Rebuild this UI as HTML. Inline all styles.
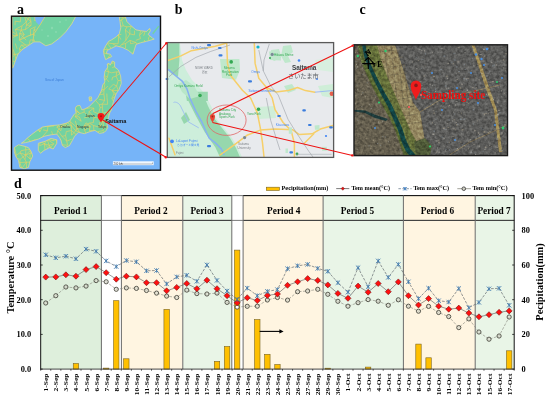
<!DOCTYPE html>
<html><head><meta charset="utf-8"><style>
html,body{margin:0;padding:0;background:#fff;width:550px;height:402px;overflow:hidden}
svg{display:block}
text{font-family:"Liberation Serif","Noto Serif CJK SC",serif}
.b{font-weight:bold}
.pl{font-size:9.9px;text-anchor:middle}
.yl{font-size:8.4px}
.xl{font-size:7.0px}
.at{font-size:10.4px}
.lg{font-size:6.4px}
.pn{font-size:14px}
.ms{font-family:"Liberation Sans","Noto Sans CJK JP",sans-serif}
.pl,.yl,.xl,.at,.lg,.pn{font-weight:bold}
</style></head><body>
<svg width="550" height="402" viewBox="0 0 550 402">
<g id="labels">
<text x="17" y="13.9" class="pn">a</text>
<text x="174.8" y="14.2" class="pn">b</text>
<text x="359.6" y="14.2" class="pn">c</text>
</g>
<g id="mapa">
<rect x="11.5" y="16.2" width="149" height="154" fill="#76b4f8"/>
<g fill="#72d2a2" stroke="#e9dc8a" stroke-width="0.7" stroke-linejoin="round">
<path d="M12.4,16.4L75.7,16.4L71.7,24L65.7,31.9L59.7,37.9L51.8,43.9L45.8,45.8L39.9,41.9L33.9,41.9L27.9,45.8L21.9,49.8L18,53.8L15,61.8L13,67.7L12.4,68Z"/>
<path d="M119.3,17L125.4,17L126.9,21.6L131.4,26.1L136,29.9L140.6,30.7L146.6,31.5L149.7,28.4L150.4,30.7L148.1,34.5L152.7,38.3L154.2,39.1L146.6,41.3L140.6,42.8L136,44.4L133,54.2L128.4,50.4L122.3,47.4L116.3,45.9L111.7,48.2L107.1,50.4L106.4,53.5L110.2,54.2L111.7,56.5L108.7,58L105.6,59.6L104.1,55L103.4,50.4L105.6,45.9L108.7,41.3L111.7,39.8L116.3,36.8L119.3,33.7L120.8,27.7L120,21.6Z"/>
<path d="M107.9,67L107.2,64L109,63.3L110.2,65.2L112.4,61L114.6,62L114.6,67L118.4,70L120.6,75.9L121.3,83.4L119.1,89.3L116.1,93.8L113.9,99.8L112.4,105.7L111.4,110L109.9,112.5L108.4,117.7L106.9,123.7L107.7,127.4L106.2,130.4L104,132.6L99.5,133.4L95,130.4L90.3,131.5L84.3,133.7L78.4,132.2L74.5,136.3L72.3,140.5L69.5,145.5L65.3,147.6L62.4,145.5L61,140.5L59.6,137.7L56.8,134.1L51.1,134.8L44,136.3L38.3,139.1L31.3,141.2L25.6,142.6L21.3,143.3L24.2,141.2L27,138.4L31.3,134.8L36.9,130.6L42.6,127L51.1,125.6L59.6,124.9L66.7,123L69.5,121.5L71.9,117.8L73.9,114.8L75.9,112.8L75.4,107.9L76.9,105.9L79.9,105.4L81.9,109.9L84.9,108.9L88.8,106.9L91.8,103.9L94.8,100.9L97.8,97.9L99.8,93.9L101.7,90L102.7,85L104.9,81.9L104.2,77.4L104.9,71.4Z"/>
<path d="M14.3,147.6L18.5,144.8L24.2,146.2L28.4,147.6L31.3,151.8L32.7,156.1L29.8,161.8L28.4,167.4L24.2,168.8L19.9,167.4L18.5,160.3L15.7,156.1L14.3,151.8Z"/>
<path d="M38.3,143.3L45.4,141.2L51.1,138.4L56.8,139.8L56.8,143.3L53.2,149L49.7,147.6L44,150.4L40.5,153.3L38.3,150.4Z"/>
<path d="M89,97L91.5,96.9L91.8,100.5L89.5,100.9Z"/>
</g>
<path d="M34,16.4L46,16.4L43,20L39,25L36,22Z" fill="#76b4f8"/>
<path d="M44.8,17L40,25L33.9,33.9L32.9,41.8M33.9,33.9L28,36L20,40" stroke="#f2d35e" stroke-width="0.7" fill="none"/>
<g fill="#8fdcb4" opacity="0.8"><circle cx="52" cy="28" r="1.2"/><circle cx="60" cy="22" r="1"/><circle cx="48" cy="36" r="1"/><circle cx="42" cy="30" r="0.8"/><circle cx="56" cy="32" r="0.9"/><circle cx="66" cy="20" r="0.8"/></g>
<path d="M152.7,33.7L158.8,26.1" stroke="#72d2a2" stroke-width="1.5" fill="none"/>
<defs><clipPath id="landclip"><path d="M12.4,16.4L36,16.4L35,41.8L29.9,43.8L23.9,48.8L18.9,53.8L15,61.7L13,67.7L12.4,68Z"/><path d="M119.3,17L125.4,17L126.9,21.6L131.4,26.1L136,29.9L140.6,30.7L146.6,31.5L149.7,28.4L150.4,30.7L148.1,34.5L152.7,38.3L154.2,39.1L146.6,41.3L140.6,42.8L136,44.4L133,54.2L128.4,50.4L122.3,47.4L116.3,45.9L111.7,48.2L107.1,50.4L106.4,53.5L110.2,54.2L111.7,56.5L108.7,58L105.6,59.6L104.1,55L103.4,50.4L105.6,45.9L108.7,41.3L111.7,39.8L116.3,36.8L119.3,33.7L120.8,27.7L120,21.6Z"/><path d="M107.9,67L107.2,64L109,63.3L110.2,65.2L112.4,61L114.6,62L114.6,67L118.4,70L120.6,75.9L121.3,83.4L119.1,89.3L116.1,93.8L113.9,99.8L112.4,105.7L111.4,110L109.9,112.5L108.4,117.7L106.9,123.7L107.7,127.4L106.2,130.4L104,132.6L99.5,133.4L95,130.4L90.3,131.5L84.3,133.7L78.4,132.2L74.5,136.3L72.3,140.5L69.5,145.5L65.3,147.6L62.4,145.5L61,140.5L59.6,137.7L56.8,134.1L51.1,134.8L44,136.3L38.3,139.1L31.3,141.2L25.6,142.6L21.3,143.3L24.2,141.2L27,138.4L31.3,134.8L36.9,130.6L42.6,127L51.1,125.6L59.6,124.9L66.7,123L69.5,121.5L71.9,117.8L73.9,114.8L75.9,112.8L75.4,107.9L76.9,105.9L79.9,105.4L81.9,109.9L84.9,108.9L88.8,106.9L91.8,103.9L94.8,100.9L97.8,97.9L99.8,93.9L101.7,90L102.7,85L104.9,81.9L104.2,77.4L104.9,71.4Z"/><path d="M14.3,147.6L18.5,144.8L24.2,146.2L28.4,147.6L31.3,151.8L32.7,156.1L29.8,161.8L28.4,167.4L24.2,168.8L19.9,167.4L18.5,160.3L15.7,156.1L14.3,151.8Z"/><path d="M38.3,143.3L45.4,141.2L51.1,138.4L56.8,139.8L56.8,143.3L53.2,149L49.7,147.6L44,150.4L40.5,153.3L38.3,150.4Z"/><path d="M89,97L91.5,96.9L91.8,100.5L89.5,100.9Z"/></clipPath></defs><g clip-path="url(#landclip)"><path d="M11.5,25.6L10.6,30.0M10.6,30.0L17.4,35.4M11.9,35.4L17.4,35.4M10.4,38.6L17.4,35.4M12.0,47.1L12.9,54.3M12.0,47.1L15.0,54.4M12.9,54.3L15.0,54.4M11.9,57.9L10.5,60.8M11.9,57.9L15.0,54.4M10.5,60.8L16.9,61.7M11.6,65.6L15.5,65.6M11.6,65.6L10.6,70.7M10.6,70.7L15.0,71.6M10.6,70.7L10.2,75.9M10.6,70.7L15.5,65.6M10.2,75.9L15.4,76.3M11.3,81.6L15.7,80.5M11.3,81.6L11.6,85.6M11.3,81.6L17.4,85.2M11.6,85.6L11.5,90.3M11.5,90.3L16.3,90.8M12.9,100.4L17.2,99.9M12.9,100.4L12.5,104.2M11.0,107.4L16.8,109.4M11.0,107.4L10.9,111.6M11.0,107.4L15.4,102.7M10.9,111.6L12.2,117.1M12.2,117.1L15.3,114.1M12.5,121.7L15.9,120.9M12.8,127.6L10.1,130.4M10.1,130.4L12.6,135.7M10.1,130.4L14.8,127.9M12.6,135.7L15.4,131.8M12.8,140.1L16.4,139.8M12.8,140.1L10.3,145.4M10.3,145.4L12.3,149.0M10.3,145.4L14.9,148.8M10.3,145.4L16.4,139.8M12.3,149.0L10.3,153.7M10.3,153.7L12.8,159.5M12.8,159.5L10.4,162.7M10.4,162.7L17.3,162.6M10.4,162.7L10.4,166.8M10.4,162.7L14.7,167.4M10.4,166.8L12.3,171.7M10.4,166.8L15.9,171.4M12.3,171.7L15.9,171.4M15.1,21.2L20.3,21.9M15.1,21.2L15.0,25.2M15.3,29.4L21.2,30.2M15.3,29.4L17.4,35.4M15.3,29.4L22.0,25.8M15.3,43.5L17.1,48.8M15.0,54.4L20.7,53.6M15.0,54.4L15.3,56.9M15.3,56.9L16.9,61.7M16.9,61.7L15.5,65.6M16.9,61.7L20.2,59.0M15.5,65.6L21.4,67.9M15.5,65.6L15.0,71.6M15.5,65.6L19.5,62.3M15.4,76.3L20.3,81.1M17.4,85.2L16.3,90.8M16.3,90.8L20.5,90.6M16.3,90.8L15.2,93.4M15.2,93.4L21.7,94.6M17.2,99.9L15.4,102.7M15.4,102.7L21.0,98.7M16.8,109.4L19.5,108.6M16.8,109.4L22.1,113.9M15.3,114.1L22.1,113.9M15.3,114.1L17.2,117.7M17.2,117.7L21.3,117.1M17.2,117.7L15.9,120.9M15.9,120.9L21.3,117.1M14.8,127.9L15.4,131.8M15.4,131.8L15.4,136.7M15.4,136.7L19.4,136.1M15.4,136.7L16.4,139.8M16.4,139.8L20.6,139.6M16.4,139.8L15.2,145.6M14.9,148.8L16.3,155.2M16.3,155.2L20.0,152.8M16.3,155.2L16.4,158.2M16.4,158.2L20.1,159.3M16.4,158.2L17.3,162.6M17.3,162.6L19.9,162.5M17.3,162.6L14.7,167.4M14.7,167.4L21.8,168.4M15.9,171.4L15.2,176.8M15.2,176.8L20.2,177.7M20.9,15.2L24.5,16.0M20.9,15.2L20.3,21.9M22.0,25.8L21.2,30.2M22.0,25.8L26.2,22.0M21.2,30.2L25.5,29.5M21.2,30.2L19.7,33.3M21.2,30.2L24.3,34.6M19.7,33.3L24.3,34.6M19.7,33.3L19.4,40.3M19.7,33.3L26.2,40.2M19.4,40.3L25.9,45.1M19.4,40.3L24.3,34.6M21.3,45.1L25.9,45.1M21.3,45.1L19.4,48.8M21.3,45.1L24.7,47.5M19.4,48.8L20.7,53.6M19.4,48.8L25.2,52.4M20.7,53.6L25.2,52.4M20.7,53.6L20.2,59.0M20.2,59.0L24.5,57.4M20.2,59.0L19.5,62.3M20.2,59.0L25.7,62.2M19.5,62.3L25.7,62.2M19.5,62.3L21.4,67.9M19.5,62.3L24.8,67.7M21.4,67.9L21.4,72.0M21.4,72.0L26.6,71.3M21.4,72.0L21.5,77.2M21.5,77.2L26.3,79.3M20.3,81.1L26.3,79.3M21.8,86.2L20.5,90.6M20.5,90.6L21.7,94.6M21.7,94.6L21.0,98.7M20.9,103.9L25.2,97.7M19.5,108.6L24.3,106.9M19.5,108.6L25.7,112.7M22.1,113.9L25.7,112.7M21.3,117.1L21.4,122.2M21.4,122.2L20.5,127.5M20.5,127.5L25.8,125.8M19.5,131.9L25.2,130.3M19.5,131.9L19.4,136.1M19.5,131.9L23.9,135.7M19.5,131.9L25.8,125.8M19.4,136.1L23.9,135.7M19.4,136.1L20.6,139.6M20.6,139.6L25.9,139.5M21.0,150.8L25.9,149.7M21.0,150.8L20.0,152.8M20.0,152.8L25.6,154.9M20.0,152.8L25.0,159.6M20.1,159.3L19.9,162.5M20.1,159.3L25.6,154.9M19.9,162.5L26.4,162.2M19.9,162.5L21.8,168.4M21.8,168.4L26.4,162.2M20.5,173.7L24.3,172.5M20.5,173.7L20.2,177.7M24.5,16.0L26.2,22.0M24.5,16.0L31.0,21.6M26.2,22.0L26.4,25.1M26.2,22.0L29.6,16.4M26.4,25.1L31.1,25.3M26.4,25.1L25.5,29.5M26.4,25.1L31.0,21.6M25.5,29.5L31.1,25.3M25.9,45.1L29.1,44.9M24.7,47.5L31.2,49.7M24.7,47.5L25.2,52.4M25.2,52.4L29.4,58.7M25.2,52.4L31.2,49.7M25.7,62.2L30.9,61.8M25.7,62.2L24.8,67.7M24.8,67.7L28.7,66.6M26.6,71.3L30.0,72.2M26.6,71.3L24.1,74.7M26.6,71.3L28.7,66.6M24.1,74.7L29.9,74.7M24.1,74.7L26.3,79.3M24.1,74.7L30.0,72.2M26.3,79.3L30.8,79.4M26.3,79.3L25.9,85.4M25.9,85.4L30.7,84.3M25.9,85.4L24.8,90.6M24.8,90.6L29.4,90.6M24.8,90.6L24.0,93.4M24.0,93.4L28.9,93.4M24.0,93.4L25.2,97.7M25.2,97.7L29.9,99.6M26.2,102.9L24.3,106.9M24.3,106.9L31.1,108.2M24.3,106.9L31.2,111.6M24.3,106.9L30.9,104.1M25.7,112.7L25.7,117.8M25.7,117.8L29.1,117.5M25.7,117.8L26.2,123.3M26.2,123.3L29.3,122.6M25.8,125.8L30.3,126.7M25.2,130.3L30.9,131.4M23.9,135.7L29.4,135.5M23.9,135.7L30.9,141.5M24.7,144.6L29.1,146.0M24.7,144.6L25.9,149.7M25.9,149.7L31.2,149.7M25.9,149.7L25.6,154.9M25.6,154.9L30.1,153.4M25.6,154.9L25.0,159.6M25.6,154.9L30.0,158.8M25.6,154.9L31.2,149.7M25.0,159.6L26.4,162.2M26.4,162.2L30.2,162.1M26.4,162.2L26.5,168.6M26.5,168.6L31.2,168.0M25.7,178.3L30.1,177.2M29.6,16.4L35.0,15.0M29.6,16.4L31.0,21.6M31.0,21.6L31.1,25.3M30.3,29.2L30.5,35.5M30.3,29.2L35.8,26.6M30.3,39.8L35.4,40.3M30.3,39.8L29.1,44.9M29.1,44.9L34.4,43.3M29.1,44.9L31.2,49.7M31.2,49.7L30.0,53.8M30.0,53.8L35.7,52.0M30.0,53.8L29.4,58.7M29.4,58.7L35.3,56.3M30.9,61.8L33.6,61.4M30.9,61.8L28.7,66.6M30.9,61.8L35.0,66.3M28.7,66.6L30.0,72.2M30.0,72.2L34.1,71.7M30.0,72.2L29.9,74.7M29.9,74.7L30.8,79.4M30.8,79.4L30.7,84.3M30.8,79.4L33.4,76.6M30.7,84.3L29.4,90.6M30.7,84.3L34.6,89.6M29.4,90.6L34.6,89.6M29.9,99.6L33.7,104.0M30.9,104.1L33.7,104.0M31.1,108.2L33.7,104.0M31.2,111.6L35.5,113.1M31.2,111.6L29.1,117.5M31.2,111.6L35.5,116.7M29.1,117.5L35.5,116.7M29.1,117.5L29.3,122.6M29.3,122.6L35.2,122.9M30.3,126.7L30.9,131.4M30.3,126.7L35.2,122.9M30.9,131.4L29.4,135.5M30.9,141.5L35.6,139.4M30.9,141.5L29.1,146.0M29.1,146.0L33.8,145.6M29.1,146.0L31.2,149.7M31.2,149.7L30.1,153.4M30.1,153.4L35.4,154.0M30.1,153.4L30.0,158.8M30.0,158.8L35.3,157.8M30.2,162.1L34.2,163.9M30.2,162.1L31.2,168.0M30.2,162.1L33.1,167.2M31.2,168.0L34.2,163.9M29.6,173.4L35.0,173.8M29.6,173.4L30.1,177.2M35.0,15.0L39.1,16.9M35.0,15.0L34.6,20.6M34.6,20.6L39.1,21.3M35.8,26.6L33.9,29.9M35.8,26.6L38.0,28.7M33.9,29.9L38.0,28.7M33.9,29.9L33.5,34.4M33.9,29.9L39.2,34.6M33.5,34.4L39.3,38.2M35.4,40.3L39.3,38.2M35.4,40.3L34.4,43.3M35.4,40.3L38.2,43.0M34.4,43.3L33.6,48.7M34.4,43.3L40.1,49.8M34.4,43.3L39.3,38.2M33.6,48.7L40.1,49.8M35.7,52.0L35.3,56.3M33.6,61.4L39.0,62.9M33.6,61.4L35.0,66.3M34.1,71.7L33.4,76.6M33.4,76.6L33.4,80.6M33.8,84.4L39.8,89.5M34.6,89.6L39.8,89.5M34.6,89.6L34.2,94.2M34.2,94.2L34.6,98.0M34.6,98.0L39.1,97.6M34.6,98.0L33.7,104.0M34.6,98.0L40.2,104.4M34.6,98.0L38.2,93.5M33.7,104.0L40.2,104.4M34.9,108.3L39.7,109.2M34.9,108.3L35.5,113.1M35.5,113.1L39.5,112.5M35.5,113.1L35.5,116.7M35.5,113.1L39.7,109.2M35.5,116.7L39.4,117.4M35.5,116.7L35.2,122.9M35.5,116.7L40.5,122.9M35.5,116.7L39.5,112.5M35.2,122.9L40.5,122.9M35.2,122.9L35.6,126.1M35.6,126.1L38.4,127.8M35.6,126.1L39.8,132.0M35.6,126.1L40.5,122.9M33.8,148.5L35.4,154.0M35.4,154.0L38.7,158.7M35.3,157.8L38.7,158.7M35.3,157.8L37.7,163.0M34.2,163.9L37.7,163.0M33.1,167.2L39.5,168.3M33.1,167.2L38.3,173.8M35.8,176.1L39.6,176.7M39.1,16.9L39.1,21.3M39.1,21.3L38.2,24.2M38.2,24.2L45.1,25.8M38.2,24.2L43.8,20.5M38.0,28.7L44.3,30.7M38.0,28.7L39.2,34.6M38.0,28.7L45.1,25.8M39.2,34.6L45.0,33.3M39.2,34.6L39.3,38.2M38.2,43.0L40.1,49.8M40.3,51.9L43.4,51.9M40.3,51.9L37.9,58.9M40.3,51.9L43.0,58.7M37.9,58.9L43.8,62.2M39.0,62.9L43.8,62.2M38.6,66.7L45.0,67.0M39.1,71.2L45.1,71.8M39.4,74.6L44.6,74.8M39.7,81.6L38.2,85.1M38.2,85.1L42.4,86.4M38.2,93.5L42.8,94.4M39.1,97.6L44.0,97.8M39.1,97.6L40.2,104.4M39.5,112.5L43.3,112.2M39.4,117.4L44.1,117.6M39.4,117.4L40.5,122.9M40.5,122.9L38.4,127.8M40.5,122.9L43.1,125.2M38.4,127.8L43.1,125.2M38.4,127.8L39.8,132.0M39.8,132.0L43.1,125.2M40.2,141.5L43.4,141.5M40.2,141.5L39.6,145.7M40.2,141.5L44.4,143.7M39.6,145.7L44.4,143.7M39.7,153.0L38.7,158.7M39.7,153.0L43.5,158.7M37.7,163.0L45.0,162.7M38.3,173.8L44.3,172.5M38.3,173.8L43.8,169.2M39.6,176.7L45.0,178.1M44.1,16.4L43.8,20.5M43.8,20.5L45.1,25.8M45.1,25.8L47.5,24.1M44.3,30.7L48.4,28.9M45.0,33.3L48.1,35.1M45.0,33.3L44.0,39.9M44.0,39.9L48.2,38.5M44.0,39.9L43.0,43.5M43.0,43.5L42.4,47.5M43.4,51.9L49.0,56.9M43.4,51.9L49.1,48.5M43.8,62.2L47.2,63.3M45.0,67.0L49.1,67.1M45.1,71.8L44.6,74.8M45.1,71.8L48.8,76.2M44.6,74.8L48.8,76.2M44.6,74.8L44.0,81.3M44.0,81.3L48.6,81.0M42.7,89.7L47.6,91.1M42.7,89.7L49.5,95.5M42.7,89.7L49.0,84.3M42.8,94.4L44.0,97.8M44.0,97.8L47.0,97.8M44.0,97.8L47.7,103.4M44.9,103.4L43.8,108.5M44.9,103.4L47.0,97.8M43.8,108.5L43.3,112.2M43.3,112.2L44.1,117.6M44.1,117.6L47.1,117.9M43.1,122.6L43.1,125.2M43.1,125.2L47.9,126.5M43.0,129.9L47.5,130.8M42.7,136.5L43.4,141.5M42.7,136.5L47.1,139.3M42.7,136.5L47.5,130.8M44.4,143.7L49.2,145.3M44.4,143.7L45.1,150.8M44.4,143.7L49.1,148.8M44.4,143.7L47.1,139.3M45.1,150.8L49.1,148.8M45.1,150.8L42.5,155.3M42.5,155.3L48.1,153.5M42.5,155.3L49.1,148.8M43.5,158.7L49.2,158.4M43.5,158.7L48.1,153.5M45.0,162.7L43.8,169.2M43.8,169.2L44.3,172.5M43.8,169.2L49.0,173.8M44.3,172.5L47.8,168.1M45.0,178.1L48.1,176.8M48.6,15.1L51.8,17.3M48.6,15.1L48.6,20.7M48.6,15.1L51.7,19.6M48.6,20.7L47.5,24.1M48.6,20.7L53.1,25.4M47.5,24.1L53.1,25.4M47.5,24.1L48.4,28.9M48.4,28.9L53.4,29.4M48.4,28.9L53.7,33.4M48.1,35.1L48.2,38.5M48.2,38.5L52.1,39.7M48.2,38.5L51.7,43.3M49.1,48.5L53.5,48.9M49.1,48.5L49.7,54.3M49.7,54.3L49.0,56.9M49.0,56.9L52.5,58.2M49.0,56.9L47.2,63.3M47.2,63.3L49.1,67.1M47.2,63.3L52.5,58.2M49.1,67.1L52.5,61.1M47.9,70.8L54.1,72.6M47.9,70.8L48.8,76.2M48.8,76.2L54.1,75.8M48.8,76.2L48.6,81.0M48.8,76.2L54.1,72.6M48.6,81.0L53.7,80.1M49.0,84.3L47.6,91.1M49.0,84.3L53.7,80.1M47.6,91.1L54.1,90.9M47.6,91.1L49.5,95.5M49.5,95.5L47.0,97.8M47.7,103.4L52.6,103.3M48.6,107.1L52.0,108.4M48.6,107.1L48.4,111.6M47.1,117.9L48.4,122.4M48.4,122.4L47.9,126.5M48.4,122.4L53.8,117.6M47.9,126.5L54.0,126.0M47.9,126.5L47.5,130.8M49.0,136.7L53.0,136.0M47.1,139.3L54.2,140.8M47.1,139.3L49.2,145.3M47.1,139.3L53.8,143.8M47.1,139.3L53.0,136.0M49.2,145.3L53.8,143.8M49.2,145.3L49.1,148.8M49.2,145.3L53.0,150.4M49.1,148.8L53.8,143.8M48.1,153.5L51.7,153.0M49.2,158.4L48.7,164.8M47.8,168.1L51.9,168.7M49.0,173.8L53.3,171.9M49.0,173.8L48.1,176.8M49.0,173.8L52.1,177.9M49.0,173.8L51.9,168.7M51.8,17.3L57.6,16.9M51.8,17.3L51.7,19.6M51.7,19.6L57.2,20.3M53.1,25.4L58.8,25.9M53.4,29.4L57.5,30.1M53.7,33.4L58.1,35.2M52.1,39.7L51.7,43.3M52.1,39.7L58.4,44.3M52.1,39.7L58.1,35.2M51.7,43.3L53.5,48.9M51.7,43.3L58.5,49.3M53.5,48.9L58.5,49.3M52.5,61.1L57.6,62.8M52.5,61.1L53.5,67.0M54.1,72.6L57.3,70.4M54.1,72.6L54.1,75.8M52.4,84.9L56.7,85.0M52.4,84.9L54.1,90.9M54.1,90.9L56.9,91.1M52.2,94.0L56.3,93.9M52.2,94.0L56.4,99.4M52.5,98.6L56.4,99.4M52.5,98.6L52.6,103.3M52.5,98.6L56.3,93.9M52.6,103.3L52.0,108.4M52.0,108.4L53.7,112.9M53.7,112.9L57.7,113.9M52.0,122.7L54.0,126.0M51.6,131.2L53.0,136.0M53.0,136.0L56.6,135.2M53.0,136.0L54.2,140.8M53.0,136.0L56.6,141.1M53.0,150.4L56.8,155.3M51.7,153.0L53.6,159.9M53.6,159.9L58.7,158.4M53.6,159.9L56.8,155.3M51.7,163.8L51.9,168.7M51.7,163.8L58.7,158.4M51.9,168.7L56.2,173.9M53.3,171.9L56.2,173.9M57.6,16.9L62.2,16.2M57.6,16.9L57.2,20.3M57.2,20.3L58.8,25.9M58.1,35.2L58.7,38.9M58.7,38.9L62.7,39.5M58.7,38.9L58.4,44.3M58.4,44.3L61.1,42.8M58.5,49.3L61.6,47.7M58.8,58.0L57.6,62.8M57.6,62.8L58.3,66.6M58.3,66.6L61.1,67.6M57.3,70.4L61.1,67.6M58.2,77.4L57.2,79.7M58.2,77.4L60.9,80.0M57.2,79.7L60.9,80.0M57.2,79.7L56.7,85.0M57.2,79.7L62.7,84.1M56.7,85.0L56.9,91.1M56.7,85.0L62.0,89.7M56.7,85.0L60.9,80.0M56.9,91.1L62.0,89.7M56.9,91.1L56.3,93.9M56.4,99.4L58.3,102.7M58.3,102.7L62.9,103.4M56.3,108.1L63.3,107.1M57.7,113.9L63.0,112.0M57.7,113.9L56.2,116.3M56.2,116.3L56.6,121.2M56.8,127.2L61.6,126.1M56.8,127.2L60.9,130.7M56.8,127.2L61.1,122.9M57.8,130.4L56.6,135.2M57.8,130.4L62.0,136.4M57.8,130.4L61.6,126.1M56.6,135.2L56.6,141.1M56.6,141.1L61.7,140.9M56.6,141.1L57.0,145.1M57.0,145.1L58.4,149.5M56.8,155.3L63.0,154.6M56.8,155.3L58.7,158.4M58.7,158.4L57.6,164.7M57.5,167.2L62.3,167.9M57.5,167.2L56.2,173.9M57.5,167.2L60.7,174.0M58.3,176.9L62.9,176.4M62.2,16.2L61.5,22.2M61.5,22.2L62.5,24.7M62.5,24.7L66.1,24.9M62.5,24.7L60.7,29.9M60.7,29.9L61.7,35.4M61.7,35.4L66.0,33.8M61.7,35.4L62.7,39.5M62.7,39.5L61.1,42.8M62.7,39.5L66.0,33.8M61.1,42.8L61.6,47.7M61.1,42.8L67.3,38.7M61.6,47.7L67.3,47.9M63.1,53.0L67.6,51.9M63.1,53.0L67.3,47.9M62.5,59.0L61.4,62.3M61.4,62.3L61.1,67.6M61.1,67.6L67.2,62.8M60.7,72.3L67.6,71.7M62.0,89.7L67.9,89.6M62.0,89.7L63.4,94.6M63.1,98.5L67.4,99.9M63.1,98.5L62.9,103.4M62.9,103.4L66.4,103.1M62.9,103.4L63.3,107.1M62.2,117.5L61.1,122.9M61.1,122.9L68.0,118.2M61.6,126.1L65.4,126.1M61.6,126.1L60.9,130.7M61.6,126.1L67.1,122.3M62.0,136.4L65.6,135.5M62.0,136.4L66.7,141.2M61.0,144.7L67.6,145.3M61.0,144.7L65.7,150.3M62.0,150.9L65.7,150.3M63.0,154.6L67.8,154.3M63.0,154.6L60.7,158.5M63.0,154.6L66.3,158.8M62.7,162.7L66.3,158.8M62.3,167.9L68.1,168.0M60.7,174.0L62.9,176.4M62.9,176.4L65.9,178.4M66.4,20.9L70.1,20.1M66.4,20.9L66.1,24.9M66.1,24.9L66.4,30.5M66.1,24.9L70.1,20.1M66.4,30.5L70.8,31.2M67.3,38.7L67.9,44.0M67.9,44.0L71.4,48.6M67.3,47.9L71.4,48.6M67.3,47.9L67.6,51.9M67.6,51.9L71.5,52.3M67.6,51.9L65.7,56.5M67.6,51.9L71.4,48.6M65.7,56.5L67.2,62.8M67.6,71.7L70.7,72.5M67.6,71.7L65.6,75.2M65.6,75.2L70.6,76.2M65.6,75.2L72.2,79.7M65.7,79.5L72.2,79.7M65.7,79.5L70.6,76.2M66.4,84.0L67.9,89.6M67.9,89.6L66.7,94.8M66.7,94.8L67.4,99.9M67.4,99.9L71.8,104.3M66.4,103.1L66.5,106.8M66.5,106.8L71.0,108.5M66.5,106.8L66.4,113.4M66.5,106.8L72.2,111.4M66.4,113.4L72.2,111.4M66.4,113.4L68.0,118.2M66.4,113.4L70.5,117.3M66.4,113.4L71.0,108.5M68.0,118.2L70.3,121.7M68.0,118.2L72.2,111.4M67.1,122.3L65.4,126.1M67.1,122.3L71.5,125.7M65.4,126.1L71.5,125.7M66.3,131.6L71.4,130.5M66.3,131.6L65.6,135.5M65.6,135.5L66.7,141.2M66.7,141.2L71.7,139.1M66.7,141.2L67.6,145.3M65.7,150.3L72.6,149.9M65.7,150.3L67.8,154.3M67.8,154.3L66.3,158.8M67.8,154.3L72.6,149.9M66.3,158.8L65.7,164.0M65.7,164.0L68.1,168.0M65.7,164.0L71.6,159.3M68.1,168.0L71.3,169.4M68.1,168.0L67.3,173.5M65.9,178.4L71.0,177.0M71.7,15.4L70.1,20.1M70.1,20.1L76.0,20.9M71.5,26.0L75.7,26.5M71.5,26.0L75.4,28.8M70.8,31.2L70.9,34.5M70.2,40.5L76.5,39.5M70.2,40.5L70.3,44.9M70.2,40.5L76.5,35.7M70.3,44.9L76.6,43.3M70.3,44.9L71.4,48.6M71.4,48.6L76.6,43.3M72.4,59.0L72.2,62.5M72.4,59.0L74.6,62.7M72.2,62.5L76.0,66.1M70.7,72.5L75.4,71.1M70.7,72.5L76.0,66.1M70.6,76.2L75.2,74.8M70.6,76.2L72.2,79.7M70.6,76.2L77.1,81.9M70.6,76.2L75.4,71.1M71.4,84.0L76.4,86.2M71.4,84.0L70.0,88.9M70.0,88.9L75.7,90.7M72.7,95.6L75.1,95.1M71.7,98.5L76.1,100.1M71.7,98.5L74.8,104.4M71.8,104.3L74.8,108.3M71.0,108.5L72.2,111.4M71.0,108.5L77.2,111.4M72.2,111.4L74.8,108.3M70.3,121.7L71.5,125.7M70.3,121.7L77.0,127.5M71.5,125.7L71.4,130.5M71.5,125.7L75.6,130.8M71.4,130.5L71.5,135.3M71.4,130.5L76.1,134.5M71.5,135.3L75.6,130.8M71.2,154.0L75.8,153.4M71.6,159.3L75.3,160.0M72.0,164.1L75.3,160.0M71.3,169.4L72.2,173.6M72.2,173.6L75.8,171.7M71.0,177.0L77.0,178.6M76.0,20.9L79.6,21.9M76.0,20.9L75.7,26.5M75.7,26.5L75.4,28.8M75.7,26.5L81.1,29.5M75.4,28.8L81.1,29.5M75.4,28.8L76.5,35.7M76.5,35.7L76.5,39.5M76.5,39.5L81.1,38.2M76.5,39.5L76.6,43.3M76.5,39.5L81.0,45.0M76.6,43.3L81.0,45.0M76.2,47.2L74.8,52.9M74.6,62.7L79.6,61.5M74.6,62.7L81.0,67.6M74.6,62.7L81.1,56.8M76.0,66.1L81.0,67.6M75.2,74.8L81.6,76.3M75.2,74.8L77.1,81.9M77.1,81.9L79.7,80.0M76.4,86.2L81.7,85.7M76.4,86.2L79.9,90.2M75.7,90.7L75.1,95.1M75.1,95.1L76.1,100.1M75.1,95.1L80.3,99.1M75.1,95.1L79.9,90.2M74.8,104.4L80.6,102.3M74.8,108.3L79.8,113.6M74.8,108.3L80.6,102.3M77.2,111.4L79.8,113.6M77.2,111.4L75.2,116.8M75.2,116.8L79.3,116.8M75.2,116.8L81.2,121.3M75.2,116.8L79.8,113.6M75.4,120.8L77.0,127.5M77.0,127.5L79.9,126.7M77.0,127.5L75.6,130.8M77.0,127.5L79.6,132.3M75.6,130.8L79.6,132.3M75.6,130.8L79.9,126.7M76.1,134.5L81.9,134.5M76.1,134.5L74.6,141.5M74.6,141.5L80.4,141.1M74.6,141.5L75.4,145.0M74.6,141.5L80.2,146.2M75.4,145.0L80.2,146.2M75.4,145.0L77.1,150.9M77.1,150.9L80.5,148.7M75.8,153.4L80.7,154.6M75.8,153.4L80.5,148.7M75.3,160.0L80.1,159.2M75.3,160.0L81.3,163.4M77.0,162.5L81.3,163.4M77.0,162.5L76.8,167.6M77.0,162.5L80.5,169.0M76.8,167.6L75.8,171.7M76.8,167.6L81.0,172.7M75.8,171.7L77.0,178.6M77.0,178.6L81.8,176.3M77.0,178.6L81.0,172.7M79.6,21.9L79.2,24.3M81.1,29.5L85.9,30.8M81.1,29.5L81.6,35.6M81.1,29.5L84.4,34.6M81.6,35.6L84.4,34.6M81.6,35.6L85.9,30.8M81.1,38.2L85.1,42.5M81.0,45.0L85.1,42.5M81.0,45.0L80.3,47.2M81.0,45.0L85.4,49.0M80.3,47.2L85.4,49.0M80.3,47.2L79.7,52.5M81.1,56.8L84.2,56.6M79.6,61.5L81.0,67.6M79.6,61.5L84.9,66.6M81.0,67.6L84.9,66.6M81.7,85.7L79.9,90.2M79.9,90.2L84.1,89.3M79.9,90.2L85.9,84.5M79.4,95.8L83.8,93.9M80.3,99.1L85.4,99.1M80.3,99.1L80.6,102.3M80.6,102.3L84.4,103.8M79.8,113.6L84.2,112.1M79.3,116.8L81.2,121.3M79.6,132.3L81.9,134.5M80.4,141.1L86.4,134.5M80.5,148.7L85.0,150.3M80.5,148.7L80.7,154.6M80.5,148.7L83.8,153.5M80.7,154.6L80.1,159.2M80.7,154.6L86.2,157.8M80.7,154.6L85.0,150.3M80.1,159.2L84.8,162.8M81.3,163.4L80.5,169.0M80.5,169.0L84.9,166.8M81.0,172.7L83.8,174.0M81.0,172.7L81.8,176.3M81.0,172.7L84.9,166.8M81.8,176.3L85.8,177.9M85.9,15.3L85.4,20.1M85.4,20.1L89.8,20.1M84.9,26.2L89.6,26.6M84.9,26.2L85.9,30.8M85.9,30.8L89.3,29.5M85.9,30.8L84.4,34.6M84.4,34.6L91.0,34.9M84.4,34.6L84.3,39.4M84.4,34.6L88.4,38.9M84.3,39.4L91.0,34.9M85.1,42.5L85.4,49.0M85.4,49.0L90.1,42.6M85.3,54.0L90.7,53.3M85.3,54.0L84.2,56.6M84.2,56.6L83.7,62.2M84.2,56.6L89.4,63.2M83.7,62.2L89.4,63.2M83.7,62.2L84.9,66.6M83.7,62.2L90.8,57.5M84.9,66.6L88.9,71.0M84.4,72.2L88.9,71.0M84.4,72.2L88.8,76.1M83.9,77.1L88.8,76.1M85.3,80.7L88.8,79.8M85.3,80.7L85.9,84.5M85.9,84.5L88.9,85.1M85.9,84.5L84.1,89.3M84.1,89.3L83.8,93.9M83.8,93.9L85.4,99.1M85.4,99.1L90.7,98.2M85.4,99.1L84.4,103.8M84.4,103.8L89.4,102.4M84.4,103.8L83.9,109.1M84.4,103.8L90.7,98.2M83.9,109.1L90.2,107.8M83.9,109.1L84.2,112.1M84.2,112.1L88.8,116.7M84.1,117.9L88.8,116.7M86.0,122.8L83.9,126.3M86.0,122.8L90.3,126.0M83.9,126.3L90.3,126.0M83.9,126.3L84.7,130.4M83.9,126.3L89.4,123.2M84.7,130.4L86.4,134.5M84.7,130.4L90.3,126.0M86.4,134.5L85.1,141.1M85.1,141.1L90.4,141.0M86.5,144.0L90.8,143.7M85.0,150.3L89.2,149.3M85.0,150.3L83.8,153.5M86.2,157.8L89.8,162.2M84.9,166.8L89.4,167.3M83.8,174.0L85.8,177.9M88.9,15.5L89.8,20.1M89.8,20.1L94.4,19.8M89.8,20.1L89.6,26.6M89.8,20.1L93.8,16.0M89.6,26.6L94.4,19.8M89.3,29.5L94.9,30.5M89.3,29.5L94.9,24.7M91.0,34.9L93.3,33.8M91.0,34.9L93.7,39.8M90.1,42.6L94.0,43.5M90.1,42.6L95.3,47.6M89.3,48.9L90.7,53.3M90.7,53.3L93.7,52.6M89.4,63.2L93.0,62.6M89.4,67.6L94.5,67.7M88.9,71.0L95.6,70.8M88.8,76.1L94.8,77.2M88.8,76.1L88.8,79.8M88.8,76.1L95.6,70.8M89.2,89.7L95.3,89.1M89.2,89.7L91.1,94.9M90.7,98.2L89.4,102.4M89.4,102.4L93.1,103.3M90.2,107.8L93.8,108.2M89.1,111.5L88.8,116.7M89.1,111.5L94.0,117.3M89.1,111.5L93.8,108.2M89.4,123.2L93.4,122.5M89.4,123.2L93.6,125.5M90.3,126.0L89.3,130.2M89.3,130.2L93.9,131.0M89.3,130.2L93.3,136.0M90.9,135.4L90.4,141.0M90.4,141.0L90.8,143.7M90.8,143.7L89.2,149.3M90.8,143.7L94.0,149.2M89.2,149.3L88.5,155.3M88.5,155.3L93.1,153.9M88.5,155.3L89.2,159.6M88.5,155.3L93.1,158.8M89.8,162.2L89.4,167.3M88.4,171.6L93.0,172.2M88.4,171.6L90.0,175.9M93.8,16.0L94.4,19.8M94.4,19.8L98.0,20.7M94.4,19.8L94.9,24.7M94.9,24.7L94.9,30.5M94.9,30.5L98.5,30.2M93.3,33.8L100.1,35.4M93.3,33.8L93.7,39.8M93.7,39.8L99.3,39.5M94.0,43.5L98.7,43.6M95.3,47.6L98.3,49.3M95.3,47.6L93.7,52.6M95.3,47.6L98.7,43.6M93.7,52.6L100.0,52.7M93.0,62.6L97.9,62.2M93.0,62.6L98.4,66.4M93.0,62.6L100.0,56.3M94.5,67.7L98.4,66.4M94.5,67.7L95.6,70.8M95.6,70.8L100.2,70.4M95.6,70.8L94.8,77.2M94.8,77.2L93.5,81.1M93.5,81.1L99.4,79.9M93.5,81.1L94.8,86.5M94.1,98.7L99.1,104.5M93.8,108.2L93.7,111.8M93.7,111.8L98.5,113.9M94.0,117.3L98.4,118.0M94.0,117.3L93.4,122.5M93.6,125.5L100.2,127.5M93.6,125.5L93.9,131.0M94.9,140.5L99.6,145.1M94.9,140.5L98.9,136.0M94.0,149.2L93.1,153.9M94.0,149.2L98.4,153.3M93.1,153.9L93.1,158.8M93.1,158.8L97.7,162.2M93.8,167.3L97.8,168.6M93.0,172.2L97.8,172.5M93.0,172.2L99.7,177.1M98.2,16.7L98.0,20.7M98.2,16.7L104.5,19.5M98.0,20.7L99.2,26.7M98.0,20.7L102.6,17.2M99.2,26.7L102.8,25.4M99.2,26.7L98.5,30.2M99.2,26.7L104.5,19.5M98.5,30.2L104.3,29.7M98.5,30.2L100.1,35.4M100.1,35.4L99.3,39.5M99.3,39.5L103.0,44.5M98.7,43.6L103.0,44.5M98.7,43.6L98.3,49.3M98.3,49.3L104.5,49.3M100.0,52.7L103.7,52.8M100.0,52.7L100.0,56.3M100.0,56.3L104.1,57.9M97.9,62.2L104.4,63.0M100.2,70.4L104.0,70.6M98.0,75.2L99.4,79.9M99.4,79.9L97.5,85.3M97.5,85.3L103.7,81.8M98.6,89.1L104.0,89.6M98.6,89.1L98.9,94.8M98.9,94.8L103.9,94.1M98.9,94.8L104.0,89.6M99.0,99.3L104.7,100.4M99.1,104.5L102.2,104.2M99.1,104.5L100.2,107.7M100.2,107.7L102.4,106.9M100.2,107.7L98.5,113.9M98.5,113.9L102.9,113.4M98.4,118.0L103.0,120.7M99.4,122.5L103.0,120.7M99.4,122.5L100.2,127.5M100.2,127.5L103.0,120.7M97.9,131.5L103.1,130.7M97.9,131.5L98.9,136.0M99.6,145.1L103.8,145.7M99.6,145.1L98.2,148.9M98.4,153.3L104.0,154.3M98.4,153.3L98.9,157.8M97.7,162.2L97.8,168.6M97.8,168.6L104.7,167.3M97.8,172.5L99.7,177.1M102.6,17.2L104.5,19.5M104.5,19.5L107.3,25.4M102.8,25.4L107.3,25.4M102.8,25.4L107.7,29.3M104.3,29.7L107.7,29.3M104.3,29.7L104.1,33.9M104.1,38.7L109.2,38.7M103.0,44.5L108.1,49.8M104.5,49.3L108.1,49.8M104.5,49.3L103.7,52.8M103.7,52.8L107.3,54.0M102.5,66.5L106.9,66.9M102.5,66.5L104.0,70.6M104.0,70.6L108.5,71.7M102.6,74.6L107.5,77.2M102.6,74.6L109.1,82.0M103.7,81.8L104.8,84.2M103.7,81.8L107.5,77.2M104.8,84.2L104.0,89.6M104.0,89.6L103.9,94.1M104.0,89.6L107.9,86.1M103.9,94.1L104.7,100.4M104.7,100.4L102.2,104.2M102.2,104.2L107.7,104.3M102.2,104.2L102.4,106.9M102.4,106.9L102.9,113.4M102.9,113.4L106.7,112.0M102.9,113.4L104.9,116.3M103.0,120.7L103.6,126.6M103.6,126.6L108.9,127.3M103.6,126.6L103.1,130.7M103.1,130.7L109.0,136.5M104.3,136.7L109.0,136.5M102.9,140.1L103.8,145.7M103.8,145.7L109.4,144.7M104.8,149.3L108.7,148.9M104.8,149.3L104.0,154.3M104.0,154.3L109.2,152.9M104.3,157.8L107.8,163.0M104.7,167.3L108.5,168.9M104.7,167.3L103.5,171.5M103.5,171.5L107.7,173.0M108.3,15.2L113.8,15.7M108.3,15.2L108.5,20.2M108.5,20.2L111.6,20.3M107.3,25.4L113.4,24.6M107.3,25.4L107.7,29.3M107.3,25.4L111.6,20.3M107.7,29.3L106.8,33.4M106.8,33.4L113.2,33.7M106.8,33.4L113.4,30.1M109.2,38.7L111.6,38.2M109.2,38.7L106.9,42.9M106.9,42.9L112.3,43.6M106.9,42.9L111.3,48.4M108.1,57.4L112.8,58.9M108.1,57.4L112.4,52.5M109.0,61.9L111.9,63.3M109.0,61.9L106.9,66.9M106.9,66.9L108.5,71.7M108.5,71.7L111.6,72.8M108.5,71.7L107.5,77.2M108.7,88.9L112.1,90.3M108.7,88.9L113.3,84.3M106.8,93.5L107.0,97.8M107.0,97.8L107.7,104.3M106.7,112.0L113.1,112.0M106.7,112.0L109.4,116.0M109.4,116.0L113.0,118.5M109.4,116.0L108.2,122.9M109.4,116.0L113.7,122.4M108.2,122.9L113.7,122.4M108.9,127.3L107.8,132.0M107.8,132.0L109.0,136.5M107.8,132.0L113.2,135.7M109.0,136.5L109.5,139.3M109.5,139.3L109.4,144.7M109.4,144.7L108.7,148.9M108.7,148.9L109.2,152.9M109.2,152.9L112.7,152.9M109.2,152.9L108.3,158.0M107.8,163.0L108.5,168.9M107.8,163.0L113.1,158.7M107.7,173.0L107.7,176.6M107.7,176.6L113.4,176.7M113.8,15.7L111.6,20.3M111.6,20.3L116.3,26.8M113.4,24.6L116.3,26.8M113.4,24.6L117.0,21.8M113.4,30.1L117.3,29.3M113.4,30.1L113.2,33.7M113.2,33.7L111.6,38.2M111.6,38.2L118.3,35.0M112.3,43.6L118.1,43.8M112.3,43.6L118.7,47.2M111.3,48.4L112.4,52.5M111.3,48.4L118.3,53.6M112.4,52.5L118.3,53.6M112.8,58.9L111.9,63.3M111.9,63.3L117.2,62.3M112.2,67.5L118.3,65.9M111.6,72.8L116.7,71.8M112.5,77.3L116.1,76.2M112.5,77.3L111.9,80.3M113.3,84.3L116.6,86.0M112.1,90.3L118.3,90.6M112.1,90.3L114.0,93.9M112.1,90.3L117.4,95.5M112.1,90.3L116.6,86.0M114.0,93.9L117.4,95.5M114.0,93.9L111.8,98.6M111.8,98.6L114.1,102.6M111.8,98.6L117.4,95.5M114.1,102.6L113.1,107.9M113.1,107.9L116.0,107.8M113.1,107.9L113.1,112.0M113.1,107.9L118.3,113.7M113.0,118.5L116.2,116.5M113.7,122.4L112.7,126.8M112.7,126.8L117.6,127.7M113.2,135.7L116.5,136.2M113.2,140.2L118.4,141.0M113.2,140.2L116.5,145.5M112.4,144.2L113.0,149.8M113.0,149.8L116.5,145.5M112.7,152.9L117.7,158.2M113.1,158.7L113.0,163.7M113.0,163.7L117.6,163.9M113.9,167.0L116.4,167.0M113.9,167.0L112.6,174.0M113.4,176.7L116.3,176.1M113.4,176.7L117.8,172.5M118.0,17.6L117.0,21.8M117.0,21.8L121.5,19.9M116.3,26.8L123.3,25.9M116.3,26.8L117.3,29.3M117.3,29.3L118.3,35.0M118.3,35.0L121.4,34.3M118.3,35.0L118.5,40.1M118.3,35.0L120.9,39.6M118.5,40.1L118.1,43.8M118.7,47.2L118.3,53.6M118.7,47.2L121.7,44.7M118.3,53.6L116.6,58.5M118.3,53.6L121.5,58.2M116.6,58.5L121.5,58.2M117.2,62.3L121.2,62.4M117.2,62.3L118.3,65.9M118.3,65.9L121.2,62.4M116.7,71.8L121.3,72.4M116.7,71.8L116.1,76.2M116.1,76.2L118.1,80.6M116.1,76.2L121.3,72.4M118.1,80.6L123.1,80.3M118.1,80.6L116.6,86.0M116.6,86.0L118.3,90.6M118.3,90.6L121.8,88.6M116.9,102.5L121.3,104.1M116.0,107.8L122.4,107.5M116.2,116.5L117.0,123.0M116.2,116.5L121.7,121.6M117.0,123.0L123.0,116.7M117.6,127.7L122.8,127.6M117.6,127.7L116.1,132.6M117.6,127.7L122.2,131.3M116.1,132.6L122.2,131.3M116.1,132.6L116.5,136.2M116.1,132.6L120.8,136.9M116.1,132.6L122.8,127.6M118.4,141.0L120.7,140.0M118.4,141.0L116.5,145.5M118.4,141.0L121.5,145.6M116.9,153.7L123.0,155.5M116.9,153.7L117.7,158.2M117.7,158.2L120.6,159.2M117.7,158.2L121.8,163.0M117.6,163.9L121.8,163.0M117.6,163.9L116.4,167.0M116.4,167.0L121.8,163.0M117.8,172.5L122.4,172.9M117.8,172.5L116.3,176.1M117.8,172.5L123.2,178.5M117.8,172.5L121.8,167.5M116.3,176.1L123.2,178.5M116.3,176.1L122.4,172.9M123.1,16.5L121.5,19.9M121.5,19.9L123.3,25.9M121.5,19.9L127.9,15.9M123.3,25.9L127.1,26.8M121.7,44.7L125.7,43.4M121.7,44.7L125.7,40.6M121.6,48.3L121.9,54.2M121.9,54.2L127.2,51.8M121.5,58.2L125.6,58.0M121.2,62.4L126.8,62.9M121.2,62.4L125.8,67.7M121.3,67.8L121.3,72.4M121.3,67.8L126.8,62.9M121.3,72.4L122.4,75.9M122.4,75.9L125.4,75.9M122.4,75.9L125.1,81.6M123.1,80.3L125.1,81.6M123.1,80.3L127.7,86.3M123.1,80.3L125.4,75.9M122.6,85.5L127.7,86.3M121.8,88.6L125.2,89.4M121.8,88.6L121.7,93.8M121.7,93.8L126.6,94.5M121.7,93.8L121.7,100.3M121.7,100.3L121.3,104.1M121.7,100.3L125.9,103.6M121.7,100.3L126.6,94.5M121.3,104.1L125.4,108.4M122.4,107.5L121.7,111.8M122.4,107.5L125.9,103.6M123.0,116.7L121.7,121.6M123.0,116.7L125.5,111.6M121.7,121.6L126.5,116.8M122.8,127.6L126.3,125.4M122.2,131.3L126.7,135.7M120.8,136.9L126.7,135.7M120.8,136.9L120.7,140.0M120.7,140.0L127.5,139.3M120.7,140.0L121.5,145.6M121.5,145.6L122.4,149.2M122.4,149.2L127.8,149.7M123.0,155.5L126.2,154.5M120.6,159.2L121.8,163.0M120.6,159.2L126.2,154.5M121.8,163.0L126.3,162.0M127.9,15.9L129.8,15.1M127.9,15.9L127.4,21.2M127.4,21.2L129.8,15.1M127.1,26.8L131.5,26.4M127.1,26.8L125.3,29.9M125.3,29.9L126.2,35.0M125.3,29.9L129.9,33.9M126.2,35.0L125.7,40.6M125.7,40.6L129.9,33.9M125.7,43.4L125.5,48.1M125.7,43.4L130.0,40.4M125.6,58.0L132.4,53.2M126.8,62.9L130.8,61.6M126.8,62.9L125.8,67.7M125.8,67.7L131.8,66.1M125.8,67.7L127.1,72.2M127.1,72.2L130.7,71.2M127.1,72.2L125.4,75.9M127.1,72.2L131.8,66.1M125.4,75.9L125.1,81.6M125.1,81.6L127.7,86.3M127.7,86.3L129.8,86.1M127.7,86.3L125.2,89.4M125.2,89.4L129.9,89.9M125.2,89.4L126.6,94.5M125.2,89.4L131.2,94.1M126.6,94.5L131.2,94.1M126.6,94.5L125.4,99.8M125.4,99.8L125.9,103.6M125.9,103.6L130.7,103.1M125.9,103.6L125.4,108.4M125.4,108.4L131.1,107.4M125.5,111.6L131.1,107.4M126.5,116.8L129.7,117.1M126.5,116.8L127.3,121.3M127.3,121.3L132.4,120.6M127.3,121.3L129.7,117.1M126.3,125.4L125.7,131.1M125.7,131.1L130.7,135.2M126.7,135.7L130.7,135.2M127.5,144.0L130.6,145.0M127.5,144.0L127.8,149.7M127.5,144.0L131.4,140.7M127.8,149.7L131.1,150.3M126.2,154.5L129.8,153.1M126.2,154.5L127.5,160.1M126.2,154.5L130.4,158.2M127.5,160.1L130.4,158.2M127.5,160.1L126.3,162.0M126.3,162.0L125.5,168.9M126.3,162.0L130.4,158.2M125.5,168.9L132.1,167.7M127.2,173.2L130.5,173.1M125.5,177.3L129.9,178.6M125.5,177.3L130.5,173.1M130.5,22.1L136.6,15.7M131.5,26.4L136.5,25.8M131.5,26.4L129.8,29.8M129.8,29.8L129.9,33.9M129.9,33.9L134.4,34.9M130.0,40.4L130.6,43.8M130.0,40.4L136.1,42.5M130.6,43.8L136.1,42.5M132.4,53.2L135.9,51.6M131.1,58.7L136.4,57.4M131.1,58.7L130.8,61.6M130.8,61.6L136.2,63.6M130.7,71.2L136.5,71.2M130.7,71.2L131.0,75.6M131.0,75.6L130.9,80.5M131.0,75.6L136.5,71.2M130.9,80.5L136.4,75.7M129.8,86.1L134.6,84.7M129.8,86.1L129.9,89.9M129.9,89.9L136.4,88.6M129.9,89.9L131.2,94.1M131.2,94.1L136.4,88.6M130.3,97.9L130.7,103.1M130.3,97.9L134.6,95.3M130.7,103.1L134.6,102.5M130.7,103.1L131.1,107.4M131.1,107.4L135.2,109.5M131.1,107.4L131.8,112.8M131.1,107.4L135.9,114.0M131.1,107.4L134.6,102.5M131.8,112.8L129.7,117.1M131.8,112.8L135.2,109.5M129.7,117.1L132.4,120.6M129.7,117.1L135.9,114.0M132.4,120.6L135.8,122.9M132.4,120.6L131.4,127.9M131.4,127.9L135.6,129.9M130.7,131.5L135.6,129.9M130.7,131.5L130.7,135.2M130.7,131.5L134.6,127.6M130.7,135.2L135.5,135.5M130.7,135.2L131.4,140.7M130.7,135.2L136.2,141.6M130.6,145.0L135.7,145.5M130.6,145.0L131.1,150.3M131.1,150.3L135.4,150.4M131.1,150.3L129.8,153.1M129.8,153.1L134.6,154.9M130.4,158.2L134.8,159.0M131.9,163.2L134.9,163.0M131.9,163.2L132.1,167.7M131.9,163.2L134.8,167.6M130.5,173.1L136.0,172.7M130.5,173.1L129.9,178.6M130.5,173.1L134.8,167.6M129.9,178.6L135.4,177.4M129.9,178.6L136.0,172.7M135.2,21.7L140.5,20.7M136.5,25.8L141.6,24.9M134.5,30.7L134.4,34.9M135.8,40.4L140.5,38.5M136.1,42.5L140.0,49.0M136.4,57.4L140.5,58.9M136.4,57.4L136.2,63.6M136.2,63.6L136.9,65.6M136.9,65.6L140.3,66.0M136.9,65.6L136.5,71.2M136.5,71.2L140.3,66.0M135.6,80.4L139.0,81.2M134.6,84.7L136.4,88.6M134.6,84.7L139.8,88.8M134.6,95.3L141.6,95.1M134.6,95.3L136.2,99.1M136.2,99.1L134.6,102.5M134.6,102.5L135.2,109.5M135.2,109.5L139.5,108.3M135.2,109.5L135.9,114.0M135.9,114.0L140.6,111.7M135.8,122.9L141.4,123.2M135.8,122.9L140.8,126.2M135.8,122.9L141.0,117.6M134.6,127.6L140.8,126.2M134.6,127.6L135.6,129.9M134.6,127.6L141.6,131.8M135.5,135.5L140.9,139.7M136.2,141.6L140.9,139.7M136.2,141.6L135.7,145.5M135.7,145.5L139.6,143.7M135.4,150.4L140.4,148.9M135.4,150.4L134.6,154.9M135.4,150.4L139.6,143.7M134.8,159.0L134.9,163.0M134.9,163.0L139.7,162.8M136.0,172.7L141.3,171.6M136.0,172.7L135.4,177.4M135.4,177.4L141.3,178.2M141.3,15.8L145.2,16.3M140.5,20.7L145.6,20.9M141.6,24.9L140.9,29.3M140.9,29.3L139.6,35.2M139.6,35.2L140.5,38.5M139.6,35.2L145.7,29.3M140.0,49.0L144.5,49.0M140.0,49.0L140.1,53.3M140.0,49.0L144.2,43.7M140.1,53.3L145.1,57.2M141.4,62.1L140.3,66.0M140.3,66.0L143.8,68.0M139.8,77.0L139.0,81.2M139.8,77.0L145.1,79.5M139.8,77.0L145.3,70.2M139.0,81.2L145.1,79.5M139.0,81.2L146.3,84.7M140.5,85.3L139.8,88.8M139.8,88.8L145.9,88.6M139.8,88.8L141.6,95.1M139.8,88.8L145.4,93.2M141.6,95.1L145.4,93.2M141.6,95.1L141.2,97.9M141.2,97.9L141.1,102.8M139.5,108.3L145.9,109.0M139.5,108.3L146.3,104.1M141.0,117.6L145.0,116.5M141.0,117.6L145.0,111.6M141.4,123.2L140.8,126.2M141.4,123.2L144.9,125.8M140.8,126.2L144.9,125.8M140.8,126.2L145.0,121.6M141.6,131.8L144.9,134.6M139.7,136.8L145.5,131.0M140.9,139.7L144.9,140.6M140.9,139.7L139.6,143.7M140.4,148.9L143.9,149.0M140.4,148.9L139.7,153.5M140.4,148.9L146.2,145.2M139.7,153.5L144.4,154.8M139.7,153.5L146.1,160.1M139.3,158.8L139.7,162.8M139.3,158.8L144.4,154.8M139.7,162.8L139.7,168.0M139.7,162.8L146.1,160.1M139.7,168.0L141.3,171.6M139.7,168.0L146.2,164.6M141.3,171.6L141.3,178.2M141.3,178.2L145.2,177.7M145.2,16.3L149.8,16.5M145.2,16.3L145.6,20.9M145.6,20.9L150.7,19.6M145.6,20.9L145.3,26.6M145.6,20.9L149.8,16.5M145.3,26.6L149.6,26.7M145.3,26.6L145.7,29.3M145.7,29.3L143.7,35.8M144.5,40.0L144.2,43.7M144.2,43.7L150.4,44.3M144.5,49.0L149.6,48.6M144.5,49.0L146.1,53.0M146.1,53.0L145.1,57.2M145.1,57.2L144.2,63.5M144.2,63.5L143.8,68.0M143.8,68.0L145.3,70.2M145.3,70.2L150.4,66.5M145.1,79.5L146.3,84.7M146.3,84.7L149.6,84.7M146.3,84.7L145.9,88.6M145.9,88.6L148.8,95.5M145.4,93.2L143.6,99.2M143.6,99.2L148.8,103.5M143.6,99.2L148.8,95.5M146.3,104.1L145.9,109.0M145.9,109.0L145.0,111.6M145.0,116.5L148.8,117.5M144.9,125.8L148.6,125.9M144.9,125.8L145.5,131.0M145.5,131.0L148.6,125.9M144.9,134.6L144.9,140.6M144.9,140.6L150.3,140.5M144.9,140.6L146.2,145.2M144.9,140.6L148.3,145.7M146.2,145.2L148.3,145.7M143.9,149.0L148.8,148.8M143.9,149.0L144.4,154.8M144.4,154.8L149.3,155.6M146.1,160.1L150.7,164.8M146.1,160.1L149.3,155.6M146.2,164.6L149.1,158.4M145.9,169.2L143.6,172.6M145.9,169.2L150.7,164.8M143.6,172.6L150.3,173.4M150.7,19.6L149.6,26.7M148.2,28.9L152.7,30.0M150.5,35.9L148.2,37.9M150.5,35.9L155.3,38.2M148.2,37.9L150.4,44.3M150.4,44.3L153.3,44.9M149.6,48.6L155.4,49.6M149.6,48.6L150.2,53.9M150.2,53.9L155.4,49.6M148.1,56.4L150.3,63.5M150.3,63.5L155.3,61.3M150.4,66.5L149.0,71.0M150.4,66.5L155.2,72.0M148.8,80.8L153.7,79.5M148.8,80.8L149.6,84.7M148.8,80.8L155.4,75.9M149.6,84.7L153.5,86.4M150.0,89.7L152.9,88.9M150.0,89.7L148.8,95.5M148.6,98.0L148.8,103.5M148.8,103.5L153.0,103.7M148.8,103.5L150.3,107.7M150.3,107.7L154.2,108.4M150.3,107.7L153.0,103.7M148.8,113.2L148.8,117.5M148.8,117.5L155.4,116.2M148.8,117.5L148.8,123.1M148.8,117.5L153.3,120.8M148.8,123.1L153.3,120.8M148.8,123.1L148.6,125.9M148.8,123.1L153.6,127.3M148.6,125.9L153.6,127.3M148.9,130.7L155.3,131.2M148.9,130.7L153.6,127.3M150.1,136.3L153.1,135.3M150.3,140.5L148.3,145.7M148.3,145.7L154.9,146.3M148.3,145.7L154.0,149.9M148.8,148.8L154.0,149.9M149.3,155.6L155.1,154.1M149.3,155.6L149.1,158.4M149.3,155.6L153.2,160.0M149.1,158.4L153.2,160.0M150.7,164.8L155.4,162.1M150.7,164.8L149.2,167.0M149.2,167.0L154.8,167.7M153.8,15.6L154.4,21.5M154.4,21.5L157.9,21.6M154.4,21.5L158.7,25.8M154.0,26.3L152.7,30.0M153.8,33.4L155.3,38.2M155.3,38.2L157.4,38.5M153.3,44.9L158.6,48.7M153.1,58.2L159.8,57.8M155.3,61.3L158.5,62.3M153.1,67.3L155.2,72.0M153.1,67.3L158.5,62.3M155.2,72.0L155.4,75.9M153.7,79.5L159.8,79.7M153.5,86.4L158.7,86.6M153.5,86.4L152.9,88.9M152.9,88.9L158.1,88.9M152.9,88.9L158.7,86.6M153.7,93.1L153.6,98.1M153.7,93.1L158.9,98.0M153.7,93.1L158.1,88.9M153.6,98.1L153.0,103.7M153.0,103.7L160.0,103.0M153.0,103.7L158.9,98.0M154.2,108.4L157.6,108.7M154.2,108.4L154.8,112.9M154.8,112.9L155.4,116.2M154.8,112.9L158.7,118.6M155.4,116.2L158.7,118.6M153.3,120.8L153.6,127.3M155.3,131.2L158.1,131.4M155.3,131.2L153.1,135.3M153.1,135.3L159.1,135.7M153.1,135.3L154.3,139.8M153.1,135.3L157.6,140.4M154.3,139.8L157.6,140.4M154.9,146.3L158.6,145.4M154.9,146.3L154.0,149.9M154.0,149.9L160.0,149.0M155.1,154.1L159.5,158.1M153.2,160.0L158.5,153.0M154.8,167.7L158.0,169.1M154.8,167.7L152.8,171.7M157.9,14.9L163.3,16.2M157.9,14.9L157.9,21.6M157.9,21.6L162.7,21.8M158.7,25.8L162.5,29.2M158.6,29.1L157.3,34.1M158.6,29.1L163.3,25.0M159.0,43.4L163.8,44.6M158.6,48.7L163.9,49.3M158.6,48.7L164.1,52.1M158.2,52.6L164.1,52.1M158.2,52.6L159.8,57.8M159.8,57.8L164.2,57.0M159.8,57.8L158.5,62.3M158.5,62.3L162.6,63.4M158.6,66.3L159.9,70.7M158.6,66.3L162.6,63.4M159.9,70.7L162.9,72.2M159.9,77.0L159.8,79.7M159.9,77.0L164.5,81.0M159.8,79.7L158.7,86.6M158.7,86.6L162.1,85.7M158.1,88.9L159.3,93.7M158.9,98.0L162.4,99.5M158.9,98.0L160.0,103.0M160.0,103.0L164.0,105.0M160.0,103.0L157.6,108.7M158.3,113.0L158.7,118.6M158.3,113.0L163.6,107.2M158.7,121.7L157.3,126.6M157.3,126.6L158.1,131.4M159.1,135.7L163.0,135.4M159.1,135.7L157.6,140.4M157.6,140.4L158.6,145.4M157.6,140.4L164.1,144.2M157.6,140.4L163.0,135.4M158.6,145.4L164.1,144.2M158.6,145.4L162.0,139.5M160.0,149.0L158.5,153.0M158.5,153.0L159.5,158.1M159.5,158.1L159.6,164.2M159.6,164.2L162.4,163.8M158.0,169.1L158.7,172.4M158.0,169.1L162.8,173.8M158.7,172.4L162.8,173.8M158.7,172.4L158.9,178.4M158.9,178.4L164.5,176.6M162.7,21.8L163.3,25.0M163.3,25.0L167.4,24.8M163.3,25.0L162.5,29.2M162.5,29.2L166.6,35.6M164.2,35.4L164.6,40.4M164.6,40.4L163.8,44.6M163.8,44.6L168.0,39.1M163.9,49.3L167.1,48.6M163.9,49.3L164.1,52.1M164.1,52.1L164.2,57.0M164.1,52.1L167.1,48.6M164.2,57.0L166.7,56.3M162.6,63.4L167.5,62.3M162.6,63.4L162.0,66.8M162.6,63.4L166.7,56.3M162.0,66.8L167.7,71.1M162.0,66.8L167.5,62.3M162.9,72.2L163.6,77.2M163.6,77.2L167.2,75.9M163.6,77.2L169.2,79.5M164.5,81.0L162.1,85.7M162.1,85.7L167.7,85.7M162.1,85.7L162.2,91.2M162.2,91.2L164.3,93.9M162.2,91.2L168.3,95.6M162.2,91.2L167.7,85.7M164.3,93.9L168.3,95.6M164.3,93.9L162.4,99.5M162.4,99.5L169.0,98.3M162.4,99.5L164.0,105.0M162.4,99.5L168.3,95.6M164.0,105.0L168.0,105.0M164.0,105.0L163.6,107.2M164.0,105.0L169.0,98.3M164.3,118.2L164.1,123.0M164.1,123.0L167.3,122.6M163.5,127.8L168.5,126.1M163.5,127.8L163.7,131.2M163.7,131.2L163.0,135.4M163.0,135.4L168.5,135.7M162.0,139.5L167.7,139.3M162.0,139.5L164.1,144.2M164.1,144.2L167.8,146.3M164.1,144.2L167.7,139.3M163.7,150.4L169.0,148.4M163.7,150.4L163.8,154.2M163.8,154.2L162.8,158.2M162.8,158.2L168.4,158.6M162.8,158.2L162.4,163.8M162.4,163.8L166.9,163.2M162.4,163.8L168.1,168.7M163.8,169.2L168.1,168.7M163.8,169.2L162.8,173.8M163.8,169.2L166.9,163.2M169.2,16.5L171.2,16.8M169.2,16.5L169.2,21.6M169.2,16.5L171.5,19.6M169.2,21.6L171.5,19.6M169.2,21.6L171.2,16.8M167.4,24.8L172.4,24.0M168.0,30.0L166.6,35.6M168.0,30.0L172.4,33.5M166.6,35.6L172.4,33.5M166.6,35.6L173.8,40.2M168.0,39.1L173.8,40.2M168.0,39.1L168.6,43.1M168.6,43.1L167.1,48.6M167.1,48.6L172.0,49.8M167.1,48.6L167.2,52.5M167.1,48.6L172.5,44.0M167.2,52.5L171.4,52.5M166.7,56.3L167.5,62.3M166.7,56.3L172.5,61.9M167.5,62.3L172.5,61.9M167.5,62.3L171.7,58.6M167.7,71.1L171.8,72.2M167.2,75.9L169.2,79.5M167.7,85.7L172.4,84.7M168.6,90.0L172.8,89.6M168.6,90.0L172.0,95.2M168.3,95.6L169.0,98.3M168.0,105.0L172.4,98.9M168.0,107.3L172.2,109.3M168.6,111.6L173.8,113.6M166.9,117.5L173.2,121.4M167.3,122.6L173.1,127.9M168.5,126.1L168.6,131.6M168.5,126.1L172.9,131.7M168.6,131.6L172.9,131.7M168.6,131.6L168.5,135.7M168.6,131.6L172.3,136.2M168.5,135.7L172.3,136.2M168.5,135.7L167.7,139.3M168.5,135.7L172.9,131.7M167.7,139.3L171.7,141.2M167.7,139.3L167.8,146.3M167.7,139.3L172.6,146.3M167.8,146.3L172.6,146.3M167.8,146.3L172.1,150.2M169.0,148.4L172.1,150.2M166.7,153.6L171.1,154.0M166.7,153.6L168.4,158.6M166.7,153.6L173.2,158.1M168.4,158.6L173.2,158.1M166.9,163.2L172.8,162.6M166.9,163.2L168.1,168.7M168.1,168.7L172.2,169.4M167.6,173.0L168.4,177.5M168.4,177.5L171.7,173.8M171.2,16.8L171.5,19.6M171.5,19.6L172.4,24.0M171.3,29.7L172.4,33.5M173.8,40.2L172.5,44.0M172.5,44.0L172.0,49.8M172.0,49.8L171.4,52.5M171.4,52.5L171.7,58.6M172.5,61.9L172.2,67.9M172.8,89.6L172.0,95.2M172.4,98.9L173.6,103.5M173.6,103.5L172.2,109.3M172.9,131.7L172.3,136.2M171.7,141.2L172.6,146.3M171.1,154.0L173.2,158.1M173.2,158.1L172.8,162.6M172.2,169.4L171.7,173.8M171.7,173.8L171.3,177.4" fill="none" stroke="#f2d35e" stroke-width="0.65" opacity="0.9"/></g>
<text x="45" y="81" font-size="3.2" class="ms" fill="#3a7bd5" >Sea of Japan</text>
<text x="85.5" y="116.5" font-size="3.4" class="ms" fill="#333" >Japan</text>
<text x="60" y="128.3" font-size="3.4" class="ms" fill="#333" >Osaka</text>
<text x="77" y="128.3" font-size="3.4" class="ms" fill="#333" >Nagoya</text>
<text x="98" y="128" font-size="3.2" class="ms" fill="#333" >Tokyo</text>
<rect x="112.9" y="161.3" width="40.8" height="3.9" fill="#fff" opacity="0.9"/>
<text x="113.6" y="164.5" font-size="2.8" class="ms" fill="#333" >200 km</text>
<path d="M121.5,164L152.5,164L152.5,162.5M121.5,164L121.5,162.5" stroke="#555" stroke-width="0.4" fill="none"/>
<text x="105.2" y="123" font-size="5.5" class="ms" fill="#111" font-weight="bold">Saitama</text>
<rect x="11.5" y="16.2" width="149" height="154" fill="none" stroke="#111" stroke-width="1.4"/>
</g>
<g id="mapb">
<rect x="167.3" y="42.6" width="166.3" height="114.8" fill="#e8eaed"/>
<path d="M168,43.3L180,43.3L182,60L186,70L192,80L200,88L206,96L212,108L216,118L224,128L232,138L238,148L242,157.3L168,157.3Z" fill="#cdeedb"/>
<path d="M168,43.3L179.4,43.3L179.4,60L178,76.8L172,74L168,70Z" fill="#96d7ad"/>
<path d="M186.9,98L204.8,98L208,106L214,118L222,128L230,138L236,148L240,157.3L220,157.3L215.3,147.3L204.8,132.3L195.9,115.9Z" fill="#96d7ad"/>
<path d="M185.4,91.7L207.8,91.7L207.8,101L186.9,101Z" fill="#96d7ad"/>
<path d="M178,84L186,80L194,86L200,96L190,99L182,92Z" fill="#b8e6c8"/>
<path d="M181,118L186,112L190,120L184,124Z" fill="#96d7ad"/>
<path d="M220,59L239.4,59L240,70L236,79.8L222,78Z" fill="#bfe8cc"/>
<path d="M269,51.4L280,51.4L281,60.4L270,60Z" fill="#bfe8cc"/>
<path d="M283,46L291,45L293,52L288,56L291,62L285,63L281,56Z" fill="#bfe8cc"/>
<path d="M271,50L279,49L281,58L274,61L270,57Z" fill="#bfe8cc"/>
<path d="M284,86L292,84L296,90L288,93Z" fill="#bfe8cc"/>
<path d="M318,86L333,84L333,98L322,96Z" fill="#cfeed8"/>
<path d="M256,107L275,106L276,118L258,119Z" fill="#cfeed8"/>
<path d="M315,60L333,58L333,72L318,70Z" fill="#d8efdf"/>
<path d="M168.2,69.4L175,75.3L182.4,81.3L186.9,88.8L189.9,98L195.9,111.4L201.8,121.9L206.3,132.3L209.3,138.3L215.3,142.8L221.2,148.7L224.2,155" fill="none" stroke="#86b0f2" stroke-width="1.5"/>
<path d="M173.5,102.5C176,101 180,104 181,107L183.9,112.9L188.4,121.9L198.8,127.9" fill="none" stroke="#9dbdf2" stroke-width="0.9"/>
<g fill="none" stroke="#f6cf69" stroke-width="1.5" stroke-linecap="round" stroke-linejoin="round">
<path d="M168.2,60.4L180.9,55.9L191.4,50.7L203.3,48.5L215.3,46.2L225.7,43.2"/>
<path d="M226.7,43.2L227.5,63.4L230.4,75.3L236.4,82.8L242.4,90.3L250.6,98L257.3,112.9L260.3,127.9L262.5,142.8L264,157"/>
<path d="M254.3,43.2L255.1,63.4L258.8,78.3L266.3,87.3L272.2,98L275,109.6L283.1,122.5L291.2,130.6L294.4,143.5L294.4,157"/>
<path d="M266.3,87.3L276,92L288,90.6L297.5,87.5L305.4,90.6L314.9,92.2"/>
<path d="M220,155L234.9,144.3L246.9,135.3L260.3,130.1L275,129L292.8,129.8L299.3,134.6L312.2,133.8L320.3,129L333,125.5"/>
<path d="M304.1,143.5L313.8,133.8"/>
<path d="M169,138.3L175,154.7"/>
</g>
<path d="M314.9,92.2L333,90.5" fill="none" stroke="#9dbdf2" stroke-width="1"/>
<g fill="none" stroke="#9aa0a6" stroke-width="0.6">
<path d="M169,76.8L180.9,66.4L195.9,57.4L210.8,51.4L219.7,48.5L230,45"/>
<path d="M258.8,50L263.3,70.9L270.7,85.8L278.2,95"/>
<path d="M269.3,44L264,60L263.3,70.9"/>
<path d="M266.3,98L270.7,120.4L276.7,139.8L280,150"/>
<path d="M278.2,95L288,119.3L296,132.2L309,151.6L313,157"/>
</g>
<g fill="#34a853">
<circle cx="231.2" cy="61.9" r="1.8"/><circle cx="200" cy="95.5" r="1.8"/><circle cx="258.5" cy="109.2" r="1.8"/><circle cx="297" cy="154" r="1.4"/><circle cx="270" cy="58" r="1"/>
</g>
<g fill="#4285f4">
<circle cx="172" cy="141.3" r="1.9"/><circle cx="258" cy="47" r="1.6" fill="#12b5cb"/><circle cx="299" cy="60.5" r="1.3"/><circle cx="326" cy="136" r="1.1"/><circle cx="317" cy="79" r="1"/>
</g>
<circle cx="272.2" cy="54.4" r="1.6" fill="#7b8a96"/>
<circle cx="244.6" cy="137.6" r="1.6" fill="#7b8a96"/>
<g fill="#3b7ddd">
<rect x="218.5" y="54.2" width="4" height="2.2" rx="1"/><rect x="248" y="80.2" width="4" height="2.2" rx="1"/><rect x="207" y="44" width="4" height="2.2" rx="1"/><rect x="207" y="145" width="4" height="2.2" rx="1"/><rect x="218" y="47" width="3.6" height="2" rx="1"/><rect x="165.5" y="78" width="3" height="2" rx="1"/>
</g>
<g fill="#bfe8cc"><path d="M314.6,125.5L319.5,125L319.5,129.8L315,129.8Z"/><path d="M322,146.8L326.8,146.8L326.8,150.8L322,150.8Z"/><path d="M288.8,127.4L292,127.4L292,133.8L288.8,133.8Z"/><path d="M285.5,148.5L288,148.5L288,153L285.5,153Z"/></g>
<g fill="#3b7ddd"><rect x="302.3" y="109.3" width="3.6" height="2.2" rx="1"/><rect x="277.2" y="114.9" width="3.6" height="2.2" rx="1"/><rect x="308" y="123.9" width="3.6" height="2.2" rx="1"/><rect x="329.2" y="126.3" width="3.6" height="2.2" rx="1"/><rect x="289.4" y="151.3" width="3.6" height="2.2" rx="1"/></g>
<path d="M296,154.3L331.6,154.3" stroke="#9aa0a6" stroke-width="0.5"/>
<text x="176" y="141.5" font-size="3.1" class="ms" fill="#4285f4">LaLaport Fujimi</text>
<text x="177" y="145.5" font-size="2.8" class="ms" fill="#4285f4">ららぽーと富士見</text>
<text x="195" y="68.6" font-size="3" class="ms" fill="#80868b">NISHI WARD</text>
<text x="202" y="72.5" font-size="2.8" class="ms" fill="#80868b">西区</text>
<text x="191.4" y="48.5" font-size="3" class="ms" fill="#4285f4">Nishi-Omiya</text>
<text x="174.2" y="87.2" font-size="3.1" class="ms" fill="#34a853">Omiya Kamaru Field</text>
<text x="224" y="69" font-size="3" class="ms" fill="#34a853">Minuma</text>
<text x="222" y="72.6" font-size="3" class="ms" fill="#34a853">Reclamation</text>
<text x="226" y="76.2" font-size="3" class="ms" fill="#34a853">Park</text>
<text x="219" y="111" font-size="3" class="ms" fill="#34a853">Saitama City</text>
<text x="219" y="114.6" font-size="3" class="ms" fill="#34a853">Arakawa</text>
<text x="219" y="118.2" font-size="3" class="ms" fill="#34a853">Sports Park</text>
<text x="247" y="115" font-size="3" class="ms" fill="#34a853">Yono Park</text>
<text x="238" y="145" font-size="3" class="ms" fill="#80868b">Saitama</text>
<text x="237.5" y="148.6" font-size="3" class="ms" fill="#80868b">University</text>
<text x="251.3" y="73" font-size="3" class="ms" fill="#4285f4">Omiya</text>
<text x="248.4" y="92.3" font-size="3" class="ms" fill="#4285f4">Saitama-Shintoshin</text>
<text x="275.8" y="126" font-size="3" class="ms" fill="#4285f4">Kitaurawa</text>
<text x="274" y="56" font-size="3" class="ms" fill="#34a853">Hikawa Shrine</text>
<text x="176" y="154" font-size="2.8" class="ms" fill="#80868b">Fujimi</text>
<text x="291.9" y="70.1" font-size="6.4" class="ms" fill="#3c4043" font-weight="bold">Saitama</text>
<text x="288" y="77.6" font-size="6.2" class="ms" fill="#5f6368" style="font-family:'Noto Sans CJK JP',sans-serif">さいたま市</text>
<ellipse cx="226.6" cy="120.2" rx="19.5" ry="15.2" fill="none" stroke="#e06666" stroke-width="0.8"/>
<path d="M212.5,122.8C211.5,120.5 210,119 210,116.5A2.5,2.5 0 1 1 215,116.5C215,119 213.5,120.5 212.5,122.8Z" fill="#ea4335"/>
<circle cx="212.5" cy="116.5" r="0.9" fill="#a52714"/>
<circle cx="331.8" cy="93.8" r="2.2" fill="#ea4335" opacity="0.85"/>
<rect x="167.3" y="42.6" width="166.3" height="114.8" fill="none" stroke="#5a5a5a" stroke-width="1.3"/>
</g>
<g id="mapc">
<defs>
<filter id="nz" x="0" y="0" width="100%" height="100%" color-interpolation-filters="sRGB">
<feTurbulence type="fractalNoise" baseFrequency="0.33" numOctaves="2" seed="7" result="t"/>
<feColorMatrix in="t" type="matrix" values="1 0 0 0 0  1 0 0 0 0  1 0 0 0 0  0 0 0 0 0.45"/>
</filter>
<clipPath id="cc"><rect x="354" y="44.8" width="153.5" height="110.8"/></clipPath>
</defs>
<g clip-path="url(#cc)">
<rect x="354" y="44.8" width="153.5" height="110.8" fill="#645e4e"/>
<path d="M395,44.8L507.5,44.8L507.5,155.6L426,155.6L424,136L420,112L412.8,102.2L404,72Z" fill="#5c5c5a"/>
<path d="M370,44.8L395,44.8L404,72L412.8,102.2L420,112L424,136L426,155.6L413,155.6L405,140L400,126L392,110L384,95L378,80L373,62Z" fill="#938660"/>
<g stroke="#675e48" stroke-width="0.6" fill="none" opacity="0.85">
<path d="M376,52L400,50M378,60L403,57M381,68L405,65M384,76L407,73M387,84L409,81M391,92L411,89M395,100L413,97M399,108L416,106M403,116L418,114M406,124L420,122"/>
<path d="M384,46L390,90M391,46L397,100M398,50L404,110M404,64L410,120"/>
</g>
<path d="M365,44.8L377,44.8L381,60L387,76L393,90L399,104L405,118L411,132L419,146L428,155.6L410,155.6L404,141L399,129L394,118L388,106L382,95L376,84L370,72L366,58Z" fill="#65703a"/>
<path d="M357.5,44.8L361.5,44.8L364.5,58L370.5,72L376.5,85L382.5,96L388.5,107L393.5,118.5L398.5,130L402,141L406.5,151L409,155.6L404,155.6L399.5,143L395.5,131L390.5,120L384.5,109L378.5,98L372.5,87L366.5,74L360.5,60Z" fill="#566631"/>
<path d="M361.9,43.8L364.4,57.5L370.4,72.4L376.3,84.9L381.8,95.7L388.1,106.9L393.0,118.6L397.8,129.8L401.5,141.6L405.9,151.3L412.0,158.7L416.0,155.3L410.1,148.7L405.9,139.8L402.2,128.2L397.0,116.8L391.9,105.1L385.4,93.7L379.7,83.1L373.6,71.0L367.6,56.5L365.1,43.2Z" fill="#124444"/>
<path d="M354,111.6L365,113L375,118L386,121L388,119L376,115L365,110.5L354,109.8Z" fill="#1d3a3a"/>
<path d="M471.5,44.8L474.5,44.8L490,90L497,110L502,152L499,152L494,110L487,92Z" fill="#a08c55"/>
<path d="M420,112L440,100L470,92L500,85M449.5,155L470,142L490,133L507,125" stroke="#8a7c5e" stroke-width="0.9" fill="none"/>
<path d="M414,142L425,138L432,146L430,155.6L416,155.6Z" fill="#4f5a38"/>
<rect x="354" y="44.8" width="153.5" height="110.8" filter="url(#nz)" style="mix-blend-mode:overlay"/>
<g opacity="0.55"><rect x="485.1" y="113.3" width="2" height="0.8" fill="#b0a48a"/><rect x="501.2" y="96.3" width="0.8" height="1" fill="#a8a8a0"/><rect x="494.4" y="86.2" width="1.5" height="0.8" fill="#9c9488"/><rect x="481.2" y="72.9" width="1.5" height="1.2" fill="#b8b0a0"/><rect x="489.1" y="145.0" width="1" height="0.8" fill="#b8b0a0"/><rect x="461.0" y="112.7" width="1" height="0.8" fill="#b0a48a"/><rect x="483.5" y="46.6" width="1" height="1" fill="#8e9aa4"/><rect x="433.8" y="79.9" width="1" height="1" fill="#7d8a94"/><rect x="502.7" y="67.3" width="1.5" height="1.2" fill="#a8a8a0"/><rect x="432.0" y="85.0" width="1" height="1.2" fill="#a8a8a0"/><rect x="489.6" y="81.8" width="2" height="0.8" fill="#9c9488"/><rect x="453.6" y="119.2" width="1.2" height="1.2" fill="#b0a48a"/><rect x="478.6" y="79.1" width="1" height="1.5" fill="#c8c4b8"/><rect x="432.1" y="122.1" width="0.8" height="1.2" fill="#b0a48a"/><rect x="466.6" y="89.7" width="1.5" height="1.2" fill="#c8c4b8"/><rect x="424.6" y="108.5" width="0.8" height="1" fill="#9c9488"/><rect x="449.1" y="149.2" width="1" height="1.5" fill="#8e9aa4"/><rect x="497.0" y="101.3" width="1.2" height="1.5" fill="#a8a8a0"/><rect x="488.1" y="109.7" width="1.2" height="1.2" fill="#a8a8a0"/><rect x="504.1" y="92.8" width="1" height="1.2" fill="#9c9488"/><rect x="499.3" y="112.0" width="1.2" height="1.2" fill="#7d8a94"/><rect x="448.8" y="104.9" width="1.2" height="1.2" fill="#b8b0a0"/><rect x="477.8" y="132.3" width="1.2" height="1.5" fill="#b8b0a0"/><rect x="434.4" y="123.8" width="2" height="1.5" fill="#a8a8a0"/><rect x="468.4" y="71.6" width="1.2" height="1.5" fill="#7d8a94"/><rect x="423.9" y="91.5" width="0.8" height="1.5" fill="#8e9aa4"/><rect x="441.4" y="136.6" width="2" height="1" fill="#7d8a94"/><rect x="463.5" y="142.8" width="1" height="1.5" fill="#8e9aa4"/><rect x="491.2" y="62.1" width="1.2" height="1" fill="#c8c4b8"/><rect x="478.7" y="145.6" width="1" height="1.5" fill="#c8c4b8"/><rect x="452.2" y="120.4" width="1.2" height="1.2" fill="#c8c4b8"/><rect x="431.4" y="89.6" width="1.5" height="1" fill="#7d8a94"/><rect x="496.6" y="147.2" width="1" height="0.8" fill="#c8c4b8"/><rect x="486.1" y="75.4" width="2" height="1.2" fill="#a8a8a0"/><rect x="488.9" y="130.9" width="2" height="0.8" fill="#b0a48a"/><rect x="466.2" y="79.0" width="1.2" height="1.5" fill="#8e9aa4"/><rect x="482.4" y="129.1" width="1.2" height="1.2" fill="#7d8a94"/><rect x="492.0" y="65.3" width="1.5" height="1.2" fill="#8e9aa4"/><rect x="463.4" y="118.5" width="2" height="1.2" fill="#8e9aa4"/><rect x="446.2" y="75.6" width="1.5" height="1.2" fill="#b0a48a"/><rect x="493.4" y="64.6" width="1.5" height="1.2" fill="#8e9aa4"/><rect x="466.5" y="102.0" width="1" height="1" fill="#b0a48a"/><rect x="493.0" y="85.1" width="1.2" height="0.8" fill="#7d8a94"/><rect x="459.7" y="118.5" width="2" height="1.5" fill="#8e9aa4"/><rect x="487.8" y="113.4" width="1.2" height="0.8" fill="#b8b0a0"/><rect x="453.0" y="63.3" width="1" height="1" fill="#b0a48a"/><rect x="476.9" y="120.1" width="0.8" height="1.5" fill="#b8b0a0"/><rect x="495.8" y="63.9" width="0.8" height="1.2" fill="#b8b0a0"/><rect x="467.6" y="98.1" width="1.5" height="1.5" fill="#8e9aa4"/><rect x="471.8" y="87.1" width="2" height="1" fill="#b8b0a0"/><rect x="457.2" y="123.5" width="1.2" height="1.5" fill="#8e9aa4"/><rect x="496.1" y="138.4" width="2" height="1.2" fill="#a8a8a0"/><rect x="448.0" y="105.4" width="1.2" height="1.2" fill="#9c9488"/><rect x="447.1" y="77.7" width="1" height="1.5" fill="#c8c4b8"/><rect x="479.1" y="133.8" width="1.2" height="1.5" fill="#b8b0a0"/><rect x="447.4" y="62.9" width="1.5" height="1" fill="#b8b0a0"/><rect x="453.3" y="111.7" width="0.8" height="1.5" fill="#a8a8a0"/><rect x="498.5" y="81.2" width="2" height="1" fill="#8e9aa4"/><rect x="497.2" y="114.0" width="1.5" height="1.5" fill="#c8c4b8"/><rect x="470.5" y="151.5" width="1.5" height="1.5" fill="#c8c4b8"/><rect x="499.9" y="149.8" width="2" height="1.2" fill="#7d8a94"/><rect x="470.7" y="151.9" width="1.5" height="0.8" fill="#8e9aa4"/><rect x="456.8" y="148.1" width="1.2" height="1" fill="#c8c4b8"/><rect x="472.4" y="48.6" width="1.5" height="1" fill="#8e9aa4"/><rect x="421.0" y="50.3" width="1.5" height="0.8" fill="#c8c4b8"/><rect x="445.3" y="103.5" width="1.5" height="0.8" fill="#b8b0a0"/><rect x="492.8" y="98.9" width="1.2" height="1.2" fill="#c8c4b8"/><rect x="463.3" y="111.7" width="2" height="0.8" fill="#a8a8a0"/><rect x="452.4" y="128.1" width="2" height="1.2" fill="#9c9488"/><rect x="463.4" y="78.1" width="1.5" height="1.2" fill="#8e9aa4"/><rect x="491.2" y="119.6" width="1" height="0.8" fill="#a8a8a0"/><rect x="455.9" y="73.3" width="0.8" height="1" fill="#a8a8a0"/><rect x="489.3" y="92.4" width="2" height="1.5" fill="#b0a48a"/><rect x="461.7" y="144.5" width="1.5" height="1" fill="#8e9aa4"/><rect x="485.3" y="96.2" width="1.2" height="0.8" fill="#7d8a94"/><rect x="474.2" y="130.1" width="1.5" height="1.2" fill="#b8b0a0"/><rect x="477.1" y="63.9" width="1.5" height="1.2" fill="#9c9488"/><rect x="466.6" y="62.6" width="0.8" height="0.8" fill="#7d8a94"/><rect x="489.3" y="70.8" width="0.8" height="0.8" fill="#8e9aa4"/><rect x="504.3" y="124.0" width="1.5" height="1.5" fill="#a8a8a0"/><rect x="421.8" y="59.3" width="2" height="0.8" fill="#7d8a94"/><rect x="505.6" y="142.6" width="1.5" height="1" fill="#b8b0a0"/><rect x="458.4" y="111.9" width="1" height="0.8" fill="#9c9488"/><rect x="464.6" y="69.0" width="1.5" height="0.8" fill="#8e9aa4"/><rect x="464.4" y="52.2" width="1.5" height="1" fill="#a8a8a0"/><rect x="446.6" y="92.6" width="2" height="1.5" fill="#c8c4b8"/><rect x="475.4" y="84.2" width="0.8" height="1" fill="#7d8a94"/><rect x="466.9" y="77.8" width="2" height="1.2" fill="#9c9488"/><rect x="441.3" y="105.4" width="0.8" height="1" fill="#8e9aa4"/><rect x="452.6" y="135.9" width="1" height="1" fill="#b0a48a"/><rect x="482.7" y="86.1" width="1" height="1" fill="#7d8a94"/><rect x="440.8" y="48.0" width="2" height="0.8" fill="#a8a8a0"/><rect x="469.7" y="139.2" width="1.5" height="1" fill="#c8c4b8"/><rect x="468.0" y="140.7" width="1.2" height="0.8" fill="#b0a48a"/><rect x="467.7" y="103.3" width="1.5" height="0.8" fill="#b0a48a"/><rect x="501.4" y="62.3" width="1" height="0.8" fill="#a8a8a0"/><rect x="482.5" y="151.1" width="1" height="1" fill="#7d8a94"/><rect x="453.8" y="113.5" width="1" height="1.2" fill="#8e9aa4"/><rect x="484.9" y="146.5" width="1.5" height="1.5" fill="#b8b0a0"/><rect x="456.1" y="124.1" width="1.2" height="1.5" fill="#b0a48a"/><rect x="420.5" y="85.1" width="2" height="1" fill="#7d8a94"/><rect x="417.8" y="65.5" width="0.8" height="0.8" fill="#b8b0a0"/><rect x="416.1" y="67.9" width="1.5" height="1.2" fill="#a8a8a0"/><rect x="445.3" y="92.1" width="2" height="1.5" fill="#8e9aa4"/><rect x="428.9" y="96.3" width="1" height="1" fill="#a8a8a0"/><rect x="451.7" y="86.5" width="1.5" height="1" fill="#9c9488"/><rect x="439.5" y="73.4" width="1" height="1.2" fill="#7d8a94"/><rect x="458.1" y="71.4" width="0.8" height="1.2" fill="#b0a48a"/><rect x="500.5" y="85.8" width="0.8" height="1.5" fill="#c8c4b8"/><rect x="443.5" y="137.7" width="1.2" height="1.2" fill="#c8c4b8"/><rect x="484.5" y="118.8" width="1" height="0.8" fill="#b8b0a0"/><rect x="472.8" y="123.2" width="0.8" height="1.5" fill="#7d8a94"/><rect x="445.0" y="85.3" width="1.5" height="1.2" fill="#8e9aa4"/><rect x="505.4" y="53.2" width="1.5" height="1" fill="#b0a48a"/><rect x="475.7" y="72.0" width="0.8" height="1.5" fill="#7d8a94"/><rect x="436.3" y="151.3" width="0.8" height="1.5" fill="#b0a48a"/><rect x="440.3" y="119.6" width="0.8" height="1.2" fill="#a8a8a0"/><rect x="446.5" y="123.4" width="1.5" height="0.8" fill="#c8c4b8"/><rect x="431.8" y="51.8" width="0.8" height="1.5" fill="#c8c4b8"/><rect x="433.6" y="130.4" width="1.5" height="1.5" fill="#8e9aa4"/><rect x="496.0" y="115.2" width="1" height="1" fill="#7d8a94"/><rect x="455.6" y="100.9" width="2" height="1" fill="#a8a8a0"/><rect x="491.0" y="146.1" width="0.8" height="1" fill="#9c9488"/><rect x="479.7" y="54.1" width="2" height="0.8" fill="#c8c4b8"/><rect x="463.2" y="104.3" width="2" height="1.5" fill="#9c9488"/><rect x="483.8" y="113.5" width="1.2" height="1.5" fill="#b0a48a"/><rect x="475.1" y="154.0" width="1" height="1.2" fill="#c8c4b8"/><rect x="483.9" y="55.5" width="1.5" height="1.2" fill="#b8b0a0"/><rect x="418.1" y="60.0" width="1" height="0.8" fill="#b0a48a"/><rect x="469.3" y="92.3" width="1" height="1.2" fill="#a8a8a0"/><rect x="442.3" y="99.2" width="1" height="1.2" fill="#8e9aa4"/><rect x="438.3" y="141.6" width="1.2" height="1.5" fill="#b0a48a"/><rect x="429.6" y="129.1" width="1.2" height="1" fill="#9c9488"/><rect x="421.4" y="49.1" width="0.8" height="0.8" fill="#7d8a94"/><rect x="428.5" y="92.2" width="1.5" height="1" fill="#8e9aa4"/><rect x="424.9" y="53.1" width="1.2" height="1.5" fill="#7d8a94"/><rect x="419.2" y="80.9" width="2" height="0.8" fill="#a8a8a0"/><rect x="503.1" y="59.1" width="1.2" height="1.5" fill="#b0a48a"/><rect x="501.5" y="73.9" width="0.8" height="1" fill="#9c9488"/><rect x="450.7" y="92.3" width="1.2" height="1.2" fill="#a8a8a0"/><rect x="469.9" y="63.6" width="1" height="0.8" fill="#8e9aa4"/><rect x="436.7" y="103.3" width="1" height="1.5" fill="#b0a48a"/><rect x="491.4" y="147.4" width="0.8" height="1.2" fill="#8e9aa4"/><rect x="439.5" y="94.1" width="2" height="1.5" fill="#b8b0a0"/><rect x="485.9" y="93.7" width="1" height="1.5" fill="#c8c4b8"/><rect x="432.8" y="110.4" width="1.5" height="0.8" fill="#b8b0a0"/><rect x="438.2" y="151.6" width="2" height="1" fill="#c8c4b8"/><rect x="455.4" y="122.1" width="1.5" height="1" fill="#b8b0a0"/><rect x="433.1" y="75.9" width="2" height="1.2" fill="#b0a48a"/><rect x="447.6" y="127.1" width="1.2" height="1" fill="#b0a48a"/><rect x="494.8" y="152.1" width="0.8" height="1.5" fill="#c8c4b8"/><rect x="429.6" y="83.7" width="1" height="1.5" fill="#c8c4b8"/><rect x="424.2" y="50.1" width="0.8" height="1.2" fill="#b8b0a0"/><rect x="487.5" y="132.0" width="1.5" height="1.5" fill="#b0a48a"/><rect x="430.1" y="103.6" width="1" height="1.5" fill="#7d8a94"/><rect x="457.5" y="47.1" width="2" height="1" fill="#b0a48a"/><rect x="446.0" y="88.0" width="0.8" height="1.2" fill="#9c9488"/><rect x="459.8" y="87.3" width="1.5" height="1.5" fill="#b0a48a"/><rect x="500.3" y="134.1" width="2" height="0.8" fill="#9c9488"/><rect x="450.4" y="61.8" width="2" height="0.8" fill="#7d8a94"/><rect x="445.4" y="129.2" width="1.2" height="0.8" fill="#a8a8a0"/><rect x="443.5" y="55.4" width="2" height="1.5" fill="#8e9aa4"/><rect x="436.6" y="150.6" width="1" height="0.8" fill="#a8a8a0"/><rect x="480.6" y="127.4" width="1.2" height="1.2" fill="#7d8a94"/><rect x="500.9" y="132.5" width="2" height="1" fill="#c8c4b8"/><rect x="497.3" y="101.8" width="1" height="1.2" fill="#b0a48a"/><rect x="455.5" y="104.7" width="0.8" height="1.5" fill="#c8c4b8"/><rect x="473.3" y="65.2" width="1" height="1.2" fill="#c8c4b8"/><rect x="491.9" y="81.0" width="2" height="1.2" fill="#b8b0a0"/><rect x="448.6" y="141.8" width="1.2" height="1.2" fill="#b0a48a"/><rect x="497.7" y="113.2" width="1" height="0.8" fill="#7d8a94"/><rect x="435.0" y="90.6" width="0.8" height="1.5" fill="#c8c4b8"/><rect x="458.1" y="70.9" width="2" height="1" fill="#8e9aa4"/><rect x="426.3" y="91.2" width="1.2" height="1" fill="#c8c4b8"/><rect x="418.7" y="49.3" width="2" height="1" fill="#c8c4b8"/><rect x="467.9" y="66.6" width="1.2" height="0.8" fill="#a8a8a0"/><rect x="444.9" y="148.8" width="2" height="0.8" fill="#8e9aa4"/><rect x="456.0" y="66.5" width="1.5" height="1" fill="#7d8a94"/><rect x="489.6" y="112.5" width="0.8" height="0.8" fill="#b8b0a0"/><rect x="435.5" y="118.6" width="1.2" height="1" fill="#8e9aa4"/><rect x="433.4" y="112.5" width="1.5" height="1.2" fill="#b0a48a"/><rect x="443.6" y="129.1" width="2" height="0.8" fill="#8e9aa4"/><rect x="415.7" y="57.1" width="1" height="1.2" fill="#8e9aa4"/><rect x="495.7" y="64.7" width="0.8" height="1" fill="#c8c4b8"/><rect x="468.0" y="147.7" width="0.8" height="0.8" fill="#9c9488"/><rect x="444.8" y="149.9" width="0.8" height="1.5" fill="#c8c4b8"/><rect x="502.1" y="150.0" width="0.8" height="1.5" fill="#b0a48a"/><rect x="485.5" y="147.3" width="0.8" height="0.8" fill="#b0a48a"/><rect x="451.0" y="97.7" width="1" height="1.2" fill="#c8c4b8"/><rect x="497.0" y="61.3" width="0.8" height="0.8" fill="#8e9aa4"/><rect x="501.0" y="90.1" width="0.8" height="1.5" fill="#a8a8a0"/><rect x="504.7" y="69.8" width="1.2" height="0.8" fill="#b8b0a0"/><rect x="423.3" y="75.3" width="1.5" height="1.5" fill="#b8b0a0"/><rect x="454.9" y="104.5" width="1" height="0.8" fill="#c8c4b8"/><rect x="489.2" y="84.4" width="0.8" height="1" fill="#8e9aa4"/><rect x="432.4" y="133.5" width="2" height="1.5" fill="#c8c4b8"/><rect x="438.3" y="139.8" width="1" height="1" fill="#b0a48a"/><rect x="460.4" y="93.8" width="0.8" height="1.2" fill="#9c9488"/><rect x="483.8" y="149.1" width="2" height="0.8" fill="#a8a8a0"/><rect x="484.3" y="63.3" width="2" height="1.5" fill="#b0a48a"/><rect x="498.0" y="110.1" width="2" height="0.8" fill="#b8b0a0"/><rect x="483.2" y="48.6" width="1.5" height="1.5" fill="#c8c4b8"/><rect x="487.7" y="47.6" width="1" height="1.2" fill="#b8b0a0"/><rect x="432.8" y="78.7" width="0.8" height="1.2" fill="#b8b0a0"/><rect x="435.0" y="88.5" width="1" height="1.5" fill="#8e9aa4"/><rect x="475.6" y="76.9" width="0.8" height="1" fill="#b0a48a"/><rect x="426.5" y="95.4" width="1.5" height="0.8" fill="#c8c4b8"/><rect x="447.4" y="141.6" width="0.8" height="1.5" fill="#8e9aa4"/><rect x="435.6" y="110.7" width="1" height="0.8" fill="#8e9aa4"/><rect x="436.9" y="147.3" width="1" height="1.5" fill="#a8a8a0"/><rect x="483.5" y="74.8" width="1.2" height="1.2" fill="#b0a48a"/><rect x="440.2" y="69.2" width="2" height="0.8" fill="#8e9aa4"/><rect x="471.7" y="58.0" width="1.2" height="1.2" fill="#8e9aa4"/><rect x="473.3" y="143.9" width="1.5" height="1" fill="#9c9488"/><rect x="412.3" y="61.2" width="0.8" height="1.5" fill="#b8b0a0"/><rect x="475.0" y="71.7" width="0.8" height="0.8" fill="#a8a8a0"/><rect x="461.6" y="129.3" width="2" height="1" fill="#b0a48a"/><rect x="488.3" y="79.1" width="1" height="0.8" fill="#7d8a94"/><rect x="448.4" y="87.6" width="0.8" height="1.2" fill="#c8c4b8"/><rect x="476.3" y="94.6" width="1.2" height="1.2" fill="#7d8a94"/><rect x="472.7" y="109.0" width="1.5" height="1.5" fill="#8e9aa4"/><rect x="475.7" y="137.5" width="0.8" height="1.5" fill="#a8a8a0"/><rect x="469.5" y="125.5" width="1.5" height="0.8" fill="#9c9488"/><rect x="465.4" y="78.3" width="1.5" height="1" fill="#c8c4b8"/><rect x="461.0" y="83.9" width="2" height="1" fill="#9c9488"/><rect x="425.2" y="95.0" width="0.8" height="0.8" fill="#8e9aa4"/><rect x="460.4" y="141.6" width="1.2" height="1.2" fill="#b0a48a"/><rect x="486.2" y="75.8" width="0.8" height="1.2" fill="#8e9aa4"/><rect x="478.1" y="135.6" width="1.5" height="1" fill="#7d8a94"/><rect x="483.4" y="131.2" width="2" height="1.5" fill="#b0a48a"/><rect x="424.6" y="65.1" width="0.8" height="1.2" fill="#9c9488"/><rect x="453.8" y="59.3" width="2" height="1.5" fill="#7d8a94"/><rect x="435.6" y="140.1" width="2" height="1.5" fill="#a8a8a0"/><rect x="465.1" y="90.6" width="1.5" height="1" fill="#9c9488"/><rect x="442.9" y="148.5" width="0.8" height="0.8" fill="#a8a8a0"/><rect x="453.3" y="53.2" width="2" height="0.8" fill="#7d8a94"/><rect x="448.5" y="119.4" width="1.5" height="1.2" fill="#8e9aa4"/><rect x="445.7" y="95.0" width="1.2" height="1.5" fill="#c8c4b8"/><rect x="475.7" y="87.1" width="1.2" height="1.2" fill="#9c9488"/><rect x="420.8" y="68.2" width="1.2" height="0.8" fill="#7d8a94"/><rect x="473.2" y="91.9" width="1.5" height="1" fill="#b8b0a0"/><rect x="457.4" y="61.0" width="2" height="1.5" fill="#9c9488"/><rect x="418.3" y="83.2" width="1.5" height="1.2" fill="#9c9488"/><rect x="466.7" y="99.3" width="1" height="1" fill="#7d8a94"/><rect x="463.7" y="64.2" width="1.2" height="1.2" fill="#8e9aa4"/><rect x="440.9" y="112.6" width="1.5" height="1.2" fill="#b0a48a"/><rect x="452.5" y="142.1" width="0.8" height="0.8" fill="#7d8a94"/><rect x="455.3" y="129.1" width="0.8" height="1.2" fill="#b0a48a"/><rect x="442.9" y="127.6" width="2" height="1.5" fill="#b8b0a0"/><rect x="483.8" y="114.7" width="1.2" height="0.8" fill="#c8c4b8"/><rect x="497.3" y="138.6" width="1.2" height="0.8" fill="#8e9aa4"/><rect x="460.0" y="123.4" width="1.5" height="0.8" fill="#a8a8a0"/><rect x="431.8" y="78.6" width="0.8" height="1.5" fill="#a8a8a0"/><rect x="426.4" y="95.9" width="1.5" height="0.8" fill="#9c9488"/><rect x="477.0" y="104.4" width="2" height="1.2" fill="#8e9aa4"/><rect x="468.1" y="148.2" width="0.8" height="1" fill="#b0a48a"/><rect x="470.5" y="72.6" width="0.8" height="0.8" fill="#7d8a94"/><rect x="474.1" y="152.6" width="1.5" height="0.8" fill="#8e9aa4"/><rect x="456.6" y="79.1" width="1.5" height="0.8" fill="#b8b0a0"/><rect x="504.6" y="141.2" width="1" height="1.5" fill="#7d8a94"/><rect x="386.6" y="114.5" width="1" height="1" fill="#8e9aa4"/><rect x="388.0" y="141.2" width="1" height="1" fill="#a8a8a0"/><rect x="355.6" y="61.1" width="1" height="1" fill="#7d8a94"/><rect x="366.6" y="96.3" width="1" height="1" fill="#b0a48a"/><rect x="370.7" y="108.0" width="1" height="1" fill="#8e9aa4"/><rect x="362.3" y="63.9" width="1" height="1" fill="#c8c4b8"/><rect x="375.0" y="96.8" width="1" height="1" fill="#9c9488"/><rect x="360.0" y="56.6" width="1" height="1" fill="#c8c4b8"/><rect x="382.2" y="121.1" width="1" height="1" fill="#a8a8a0"/><rect x="360.9" y="94.1" width="1" height="1" fill="#b8b0a0"/><rect x="356.0" y="64.1" width="1" height="1" fill="#c8c4b8"/><rect x="362.4" y="73.8" width="1" height="1" fill="#7d8a94"/><rect x="363.0" y="63.6" width="1" height="1" fill="#a8a8a0"/><rect x="370.9" y="78.2" width="1" height="1" fill="#7d8a94"/><rect x="356.1" y="84.5" width="1" height="1" fill="#7d8a94"/><rect x="361.3" y="106.0" width="1" height="1" fill="#a8a8a0"/><rect x="366.8" y="82.3" width="1" height="1" fill="#7d8a94"/><rect x="393.9" y="137.0" width="1" height="1" fill="#9c9488"/><rect x="368.6" y="145.3" width="1" height="1" fill="#8e9aa4"/><rect x="356.8" y="52.3" width="1" height="1" fill="#9c9488"/><rect x="364.9" y="91.4" width="1" height="1" fill="#b0a48a"/><rect x="361.4" y="59.9" width="1" height="1" fill="#b0a48a"/><rect x="356.6" y="148.8" width="1" height="1" fill="#c8c4b8"/><rect x="370.4" y="147.9" width="1" height="1" fill="#b0a48a"/><rect x="361.7" y="91.1" width="1" height="1" fill="#b0a48a"/><rect x="384.9" y="136.5" width="1" height="1" fill="#8e9aa4"/><rect x="380.2" y="144.8" width="1" height="1" fill="#8e9aa4"/><rect x="378.4" y="122.8" width="1" height="1" fill="#b0a48a"/><rect x="357.4" y="47.5" width="1" height="1" fill="#7d8a94"/><rect x="357.8" y="46.1" width="1" height="1" fill="#b0a48a"/><rect x="364.8" y="96.3" width="1" height="1" fill="#b8b0a0"/><rect x="369.1" y="103.8" width="1" height="1" fill="#a8a8a0"/><rect x="361.6" y="125.6" width="1" height="1" fill="#b8b0a0"/><rect x="365.7" y="138.1" width="1" height="1" fill="#b0a48a"/><rect x="357.3" y="89.1" width="1" height="1" fill="#c8c4b8"/><rect x="363.0" y="115.6" width="1" height="1" fill="#8e9aa4"/><rect x="364.9" y="145.4" width="1" height="1" fill="#b8b0a0"/><rect x="378.6" y="108.8" width="1" height="1" fill="#9c9488"/><rect x="367.6" y="86.3" width="1" height="1" fill="#b8b0a0"/><rect x="369.6" y="125.4" width="1" height="1" fill="#9c9488"/><rect x="379.4" y="105.5" width="1" height="1" fill="#b0a48a"/><rect x="357.3" y="120.1" width="1" height="1" fill="#8e9aa4"/><rect x="355.1" y="103.3" width="1" height="1" fill="#c8c4b8"/><rect x="355.1" y="52.1" width="1" height="1" fill="#b0a48a"/><rect x="357.2" y="66.5" width="1" height="1" fill="#c8c4b8"/><rect x="377.2" y="143.1" width="1" height="1" fill="#8e9aa4"/><rect x="355.7" y="102.4" width="1" height="1" fill="#b0a48a"/><rect x="378.0" y="121.5" width="1" height="1" fill="#c8c4b8"/><rect x="382.1" y="136.2" width="1" height="1" fill="#7d8a94"/><rect x="395.6" y="144.1" width="1" height="1" fill="#b8b0a0"/><rect x="359.0" y="48.2" width="1" height="1" fill="#9c9488"/><rect x="355.9" y="67.7" width="1" height="1" fill="#8e9aa4"/><rect x="362.1" y="67.7" width="1" height="1" fill="#a8a8a0"/><rect x="359.7" y="64.6" width="1" height="1" fill="#a8a8a0"/><rect x="362.3" y="92.3" width="1" height="1" fill="#7d8a94"/><rect x="373.0" y="140.1" width="1" height="1" fill="#b0a48a"/><rect x="399.6" y="149.0" width="1" height="1" fill="#7d8a94"/><rect x="356.7" y="66.3" width="1" height="1" fill="#c8c4b8"/><rect x="365.3" y="61.9" width="1" height="1" fill="#8e9aa4"/><rect x="374.7" y="95.2" width="1" height="1" fill="#7d8a94"/></g>

</g>
<g fill="#4a90e2">
<circle cx="487" cy="49" r="1.3"/><circle cx="476" cy="54.5" r="1.3"/><circle cx="481.5" cy="59" r="1.2"/><circle cx="471" cy="73" r="1"/><circle cx="478" cy="103" r="1.1"/><circle cx="432" cy="73" r="1"/><circle cx="442" cy="110" r="1"/><circle cx="457" cy="88" r="1"/><circle cx="495" cy="125" r="1"/><circle cx="455" cy="140" r="1"/><circle cx="375" cy="128" r="1"/><circle cx="502" cy="78" r="1"/><circle cx="484" cy="65" r="1.1"/>
</g>
<g fill="#2ecc71">
<circle cx="357.8" cy="56" r="1.2"/><circle cx="385.5" cy="51" r="1.2"/><circle cx="379" cy="102.5" r="1.1"/><circle cx="430" cy="146.5" r="1.1"/><circle cx="497" cy="82" r="1"/><circle cx="503" cy="128" r="1.4"/>
</g>
<circle cx="409" cy="107" r="1.1" fill="#ff6060"/>
<circle cx="421" cy="95" r="1.1" fill="#ff6060"/>
<g stroke="#000" stroke-width="1.1" fill="none">
<path d="M368.3,57.8L368.3,69M362.3,63.6L375.4,63.6"/>
<path d="M364.6,61.2L368.3,57.5L372,61.5M372,61.5C373.5,63 374.5,65.5 374,67"/>
</g>
<text x="365.2" y="55.2" font-size="7.5" font-weight="bold" stroke="#000" stroke-width="0.35" transform="rotate(-35 368 52.5)">N</text>
<text x="377.2" y="66.6" font-size="7.6" font-weight="bold">E</text>
<path d="M416,99.8C414.5,95.5 410.7,91.5 410.7,85.8A5.3,5.3 0 1 1 421.3,85.8C421.3,91.5 417.5,95.5 416,99.8Z" fill="#ee1c1c"/>
<circle cx="416" cy="85.4" r="1.8" fill="#8a1a1a"/>
<text x="420.9" y="99" font-size="11.6" fill="#ee0f0f" font-weight="bold" textLength="64.3" lengthAdjust="spacingAndGlyphs">Sampling site</text>
<rect x="354" y="44.8" width="153.5" height="110.8" fill="none" stroke="#1a1a1a" stroke-width="1.4"/>
</g>
<g id="red" stroke="#ee1111" stroke-width="1.05" fill="#ee1111">
<line x1="101.5" y1="119.5" x2="166.5" y2="43"/>
<line x1="102" y1="119.5" x2="166" y2="157.3"/>
<line x1="212.5" y1="113.8" x2="353" y2="45.5"/>
<line x1="212.5" y1="122.5" x2="352.5" y2="155.5"/>
<circle cx="166.3" cy="43.2" r="1.2" stroke="none"/>
<circle cx="165.8" cy="157.2" r="1.2" stroke="none"/>
<circle cx="352.8" cy="45.6" r="1.2" stroke="none"/>
<circle cx="352.3" cy="155.4" r="1.2" stroke="none"/>
</g>
<path d="M101,122.6C100.2,120.4 97.6,118.9 97.6,116.3A3.4,3.4 0 1 1 104.4,116.3C104.4,118.9 101.8,120.4 101,122.6Z" fill="#f21818"/>
<circle cx="101" cy="116.3" r="1" fill="#b01010"/>

<g id="chart">
<rect x="40.5" y="195.6" width="60.9" height="173.5" fill="#deefdc"/>
<rect x="121.4" y="195.6" width="61.4" height="173.5" fill="#fff5e1"/>
<rect x="182.8" y="195.6" width="49" height="173.5" fill="#e9f5e7"/>
<rect x="243.1" y="195.6" width="80" height="173.5" fill="#fff5e1"/>
<rect x="323.1" y="195.6" width="80.3" height="173.5" fill="#e9f5e7"/>
<rect x="403.4" y="195.6" width="71.8" height="173.5" fill="#fff5e1"/>
<rect x="475.2" y="195.6" width="39.1" height="173.5" fill="#e9f5e7"/>
<line x1="40.7" y1="195.6" x2="514.2" y2="195.6" stroke="#777" stroke-width="1"/>
<line x1="40.7" y1="220.4" x2="514.2" y2="220.4" stroke="#6a6a6a" stroke-width="0.9"/>
<line x1="40.5" y1="195.6" x2="101.4" y2="195.6" stroke="#111" stroke-width="1"/>
<line x1="40.5" y1="220.4" x2="101.4" y2="220.4" stroke="#333" stroke-width="0.9"/>
<line x1="121.4" y1="195.6" x2="182.8" y2="195.6" stroke="#111" stroke-width="1"/>
<line x1="121.4" y1="220.4" x2="182.8" y2="220.4" stroke="#333" stroke-width="0.9"/>
<line x1="182.8" y1="195.6" x2="231.8" y2="195.6" stroke="#111" stroke-width="1"/>
<line x1="182.8" y1="220.4" x2="231.8" y2="220.4" stroke="#333" stroke-width="0.9"/>
<line x1="243.1" y1="195.6" x2="323.1" y2="195.6" stroke="#111" stroke-width="1"/>
<line x1="243.1" y1="220.4" x2="323.1" y2="220.4" stroke="#333" stroke-width="0.9"/>
<line x1="323.1" y1="195.6" x2="403.4" y2="195.6" stroke="#111" stroke-width="1"/>
<line x1="323.1" y1="220.4" x2="403.4" y2="220.4" stroke="#333" stroke-width="0.9"/>
<line x1="403.4" y1="195.6" x2="475.2" y2="195.6" stroke="#111" stroke-width="1"/>
<line x1="403.4" y1="220.4" x2="475.2" y2="220.4" stroke="#333" stroke-width="0.9"/>
<line x1="475.2" y1="195.6" x2="514.3" y2="195.6" stroke="#111" stroke-width="1"/>
<line x1="475.2" y1="220.4" x2="514.3" y2="220.4" stroke="#333" stroke-width="0.9"/>
<line x1="101.4" y1="195.6" x2="101.4" y2="369.1" stroke="#6b6b6b" stroke-width="1"/>
<line x1="121.4" y1="195.6" x2="121.4" y2="369.1" stroke="#6b6b6b" stroke-width="1"/>
<line x1="182.8" y1="195.6" x2="182.8" y2="369.1" stroke="#6b6b6b" stroke-width="1"/>
<line x1="231.8" y1="195.6" x2="231.8" y2="369.1" stroke="#6b6b6b" stroke-width="1"/>
<line x1="243.1" y1="195.6" x2="243.1" y2="369.1" stroke="#6b6b6b" stroke-width="1"/>
<line x1="323.1" y1="195.6" x2="323.1" y2="369.1" stroke="#6b6b6b" stroke-width="1"/>
<line x1="403.4" y1="195.6" x2="403.4" y2="369.1" stroke="#6b6b6b" stroke-width="1"/>
<line x1="475.2" y1="195.6" x2="475.2" y2="369.1" stroke="#6b6b6b" stroke-width="1"/>
<text x="70.7" y="213.8" class="pl" textLength="33.4" lengthAdjust="spacingAndGlyphs">Period 1</text>
<text x="150.9" y="213.8" class="pl" textLength="33.4" lengthAdjust="spacingAndGlyphs">Period 2</text>
<text x="207.1" y="213.8" class="pl" textLength="33.4" lengthAdjust="spacingAndGlyphs">Period 3</text>
<text x="283.8" y="213.8" class="pl" textLength="33.4" lengthAdjust="spacingAndGlyphs">Period 4</text>
<text x="357.5" y="213.8" class="pl" textLength="33.4" lengthAdjust="spacingAndGlyphs">Period 5</text>
<text x="437.4" y="213.8" class="pl" textLength="33.4" lengthAdjust="spacingAndGlyphs">Period 6</text>
<text x="494.1" y="213.8" class="pl" textLength="33.4" lengthAdjust="spacingAndGlyphs">Period 7</text>
<rect x="73.26" y="363.6" width="5.4" height="5.5" fill="#ffc000" stroke="#7a6420" stroke-width="0.6"/>
<rect x="103.48" y="368.1" width="5.4" height="1" fill="#ffc000" stroke="#7a6420" stroke-width="0.6"/>
<rect x="113.56" y="300.7" width="5.4" height="68.4" fill="#ffc000" stroke="#7a6420" stroke-width="0.6"/>
<rect x="123.63" y="358.8" width="5.4" height="10.3" fill="#ffc000" stroke="#7a6420" stroke-width="0.6"/>
<rect x="163.93" y="309.4" width="5.4" height="59.7" fill="#ffc000" stroke="#7a6420" stroke-width="0.6"/>
<rect x="214.3" y="361.4" width="5.4" height="7.7" fill="#ffc000" stroke="#7a6420" stroke-width="0.6"/>
<rect x="224.38" y="346.5" width="5.4" height="22.6" fill="#ffc000" stroke="#7a6420" stroke-width="0.6"/>
<rect x="234.45" y="250.1" width="5.4" height="119" fill="#ffc000" stroke="#7a6420" stroke-width="0.6"/>
<rect x="254.6" y="319.6" width="5.4" height="49.5" fill="#ffc000" stroke="#7a6420" stroke-width="0.6"/>
<rect x="264.68" y="354.3" width="5.4" height="14.8" fill="#ffc000" stroke="#7a6420" stroke-width="0.6"/>
<rect x="274.75" y="364.5" width="5.4" height="4.6" fill="#ffc000" stroke="#7a6420" stroke-width="0.6"/>
<rect x="325.12" y="368.2" width="5.4" height="0.9" fill="#ffc000" stroke="#7a6420" stroke-width="0.6"/>
<rect x="365.42" y="367.1" width="5.4" height="2" fill="#ffc000" stroke="#7a6420" stroke-width="0.6"/>
<rect x="415.79" y="344.1" width="5.4" height="25" fill="#ffc000" stroke="#7a6420" stroke-width="0.6"/>
<rect x="425.87" y="357.8" width="5.4" height="11.3" fill="#ffc000" stroke="#7a6420" stroke-width="0.6"/>
<rect x="506.46" y="350.8" width="5.4" height="18.3" fill="#ffc000" stroke="#7a6420" stroke-width="0.6"/>
<polyline points="45.74,254.8 55.81,257.8 65.89,256.2 75.96,258.8 86.04,249.1 96.11,251.3 106.18,260.9 116.26,266.6 126.33,260.5 136.41,261.8 146.48,270.8 156.56,270.5 166.63,283.9 176.71,276.9 186.78,275.3 196.85,281.3 206.93,264.9 217,280.4 227.08,291 237.15,299.4 247.23,288.1 257.3,295.7 267.38,291.4 277.45,289.6 287.52,268.7 297.6,265.8 307.67,264.4 317.75,268.4 327.82,271.3 337.9,282.7 347.97,292.2 358.05,267.7 368.12,286.7 378.19,260.9 388.27,277.4 398.34,264.4 408.42,281.8 418.49,298.7 428.57,288.2 438.64,300.7 448.72,302 458.79,288.5 468.86,307.7 478.94,302.4 489.01,288.8 499.09,288.3 509.16,305.3" fill="none" stroke="#5a6066" stroke-width="0.65" stroke-dasharray="2.8,1.4"/>
<polyline points="45.74,303 55.81,295.7 65.89,287 75.96,287.9 86.04,286.1 96.11,280.6 106.18,281.8 116.26,289.3 126.33,287.9 136.41,288.4 146.48,290.5 156.56,293.1 166.63,296.1 176.71,297.5 186.78,290.1 196.85,293.6 206.93,294 217,293.1 227.08,302.4 237.15,307.1 247.23,306.3 257.3,306.2 267.38,300 277.45,297.5 287.52,300.1 297.6,291.7 307.67,291 317.75,289.3 327.82,294.3 337.9,301.3 347.97,306.2 358.05,302.7 368.12,299.6 378.19,301.2 388.27,305.3 398.34,299.8 408.42,306.2 418.49,311.2 428.57,306.4 438.64,312.5 448.72,316.6 458.79,327.6 468.86,318.9 478.94,332 489.01,339.2 499.09,336 509.16,317" fill="none" stroke="#85857b" stroke-width="0.6" stroke-dasharray="2.8,1.4"/>
<polyline points="45.74,277.1 55.81,276.9 65.89,274.8 75.96,276.2 86.04,269.6 96.11,266.6 106.18,272.7 116.26,279.2 126.33,276.2 136.41,276.9 146.48,282.7 156.56,282.7 166.63,290.8 176.71,287.4 186.78,283.5 196.85,288.7 206.93,280.2 217,288.7 227.08,295.7 237.15,302.8 247.23,297.7 257.3,300.6 267.38,295.4 277.45,294 287.52,285.3 297.6,281.8 307.67,278.6 317.75,280.4 327.82,284.9 337.9,293.4 347.97,298.3 358.05,286.1 368.12,292.2 378.19,283.5 388.27,291.7 398.34,281.9 408.42,295.7 418.49,305 428.57,298.6 438.64,306.2 448.72,309.2 458.79,308.1 468.86,313.1 478.94,316.8 489.01,314.7 499.09,312.3 509.16,310.9" fill="none" stroke="#555" stroke-width="0.6"/>
<circle cx="45.74" cy="303" r="2.1" fill="#d8d8cc" fill-opacity="0.6" stroke="#4b4b42" stroke-width="0.9"/>
<circle cx="55.81" cy="295.7" r="2.1" fill="#d8d8cc" fill-opacity="0.6" stroke="#4b4b42" stroke-width="0.9"/>
<circle cx="65.89" cy="287" r="2.1" fill="#d8d8cc" fill-opacity="0.6" stroke="#4b4b42" stroke-width="0.9"/>
<circle cx="75.96" cy="287.9" r="2.1" fill="#d8d8cc" fill-opacity="0.6" stroke="#4b4b42" stroke-width="0.9"/>
<circle cx="86.04" cy="286.1" r="2.1" fill="#d8d8cc" fill-opacity="0.6" stroke="#4b4b42" stroke-width="0.9"/>
<circle cx="96.11" cy="280.6" r="2.1" fill="#d8d8cc" fill-opacity="0.6" stroke="#4b4b42" stroke-width="0.9"/>
<circle cx="106.18" cy="281.8" r="2.1" fill="#d8d8cc" fill-opacity="0.6" stroke="#4b4b42" stroke-width="0.9"/>
<circle cx="116.26" cy="289.3" r="2.1" fill="#d8d8cc" fill-opacity="0.6" stroke="#4b4b42" stroke-width="0.9"/>
<circle cx="126.33" cy="287.9" r="2.1" fill="#d8d8cc" fill-opacity="0.6" stroke="#4b4b42" stroke-width="0.9"/>
<circle cx="136.41" cy="288.4" r="2.1" fill="#d8d8cc" fill-opacity="0.6" stroke="#4b4b42" stroke-width="0.9"/>
<circle cx="146.48" cy="290.5" r="2.1" fill="#d8d8cc" fill-opacity="0.6" stroke="#4b4b42" stroke-width="0.9"/>
<circle cx="156.56" cy="293.1" r="2.1" fill="#d8d8cc" fill-opacity="0.6" stroke="#4b4b42" stroke-width="0.9"/>
<circle cx="166.63" cy="296.1" r="2.1" fill="#d8d8cc" fill-opacity="0.6" stroke="#4b4b42" stroke-width="0.9"/>
<circle cx="176.71" cy="297.5" r="2.1" fill="#d8d8cc" fill-opacity="0.6" stroke="#4b4b42" stroke-width="0.9"/>
<circle cx="186.78" cy="290.1" r="2.1" fill="#d8d8cc" fill-opacity="0.6" stroke="#4b4b42" stroke-width="0.9"/>
<circle cx="196.85" cy="293.6" r="2.1" fill="#d8d8cc" fill-opacity="0.6" stroke="#4b4b42" stroke-width="0.9"/>
<circle cx="206.93" cy="294" r="2.1" fill="#d8d8cc" fill-opacity="0.6" stroke="#4b4b42" stroke-width="0.9"/>
<circle cx="217" cy="293.1" r="2.1" fill="#d8d8cc" fill-opacity="0.6" stroke="#4b4b42" stroke-width="0.9"/>
<circle cx="227.08" cy="302.4" r="2.1" fill="#d8d8cc" fill-opacity="0.6" stroke="#4b4b42" stroke-width="0.9"/>
<circle cx="237.15" cy="307.1" r="2.1" fill="#ffffff" stroke="#4b4b42" stroke-width="0.9"/>
<circle cx="247.23" cy="306.3" r="2.1" fill="#d8d8cc" fill-opacity="0.6" stroke="#4b4b42" stroke-width="0.9"/>
<circle cx="257.3" cy="306.2" r="2.1" fill="#d8d8cc" fill-opacity="0.6" stroke="#4b4b42" stroke-width="0.9"/>
<circle cx="267.38" cy="300" r="2.1" fill="#d8d8cc" fill-opacity="0.6" stroke="#4b4b42" stroke-width="0.9"/>
<circle cx="277.45" cy="297.5" r="2.1" fill="#d8d8cc" fill-opacity="0.6" stroke="#4b4b42" stroke-width="0.9"/>
<circle cx="287.52" cy="300.1" r="2.1" fill="#d8d8cc" fill-opacity="0.6" stroke="#4b4b42" stroke-width="0.9"/>
<circle cx="297.6" cy="291.7" r="2.1" fill="#d8d8cc" fill-opacity="0.6" stroke="#4b4b42" stroke-width="0.9"/>
<circle cx="307.67" cy="291" r="2.1" fill="#d8d8cc" fill-opacity="0.6" stroke="#4b4b42" stroke-width="0.9"/>
<circle cx="317.75" cy="289.3" r="2.1" fill="#d8d8cc" fill-opacity="0.6" stroke="#4b4b42" stroke-width="0.9"/>
<circle cx="327.82" cy="294.3" r="2.1" fill="#d8d8cc" fill-opacity="0.6" stroke="#4b4b42" stroke-width="0.9"/>
<circle cx="337.9" cy="301.3" r="2.1" fill="#d8d8cc" fill-opacity="0.6" stroke="#4b4b42" stroke-width="0.9"/>
<circle cx="347.97" cy="306.2" r="2.1" fill="#d8d8cc" fill-opacity="0.6" stroke="#4b4b42" stroke-width="0.9"/>
<circle cx="358.05" cy="302.7" r="2.1" fill="#d8d8cc" fill-opacity="0.6" stroke="#4b4b42" stroke-width="0.9"/>
<circle cx="368.12" cy="299.6" r="2.1" fill="#d8d8cc" fill-opacity="0.6" stroke="#4b4b42" stroke-width="0.9"/>
<circle cx="378.19" cy="301.2" r="2.1" fill="#d8d8cc" fill-opacity="0.6" stroke="#4b4b42" stroke-width="0.9"/>
<circle cx="388.27" cy="305.3" r="2.1" fill="#d8d8cc" fill-opacity="0.6" stroke="#4b4b42" stroke-width="0.9"/>
<circle cx="398.34" cy="299.8" r="2.1" fill="#d8d8cc" fill-opacity="0.6" stroke="#4b4b42" stroke-width="0.9"/>
<circle cx="408.42" cy="306.2" r="2.1" fill="#d8d8cc" fill-opacity="0.6" stroke="#4b4b42" stroke-width="0.9"/>
<circle cx="418.49" cy="311.2" r="2.1" fill="#d8d8cc" fill-opacity="0.6" stroke="#4b4b42" stroke-width="0.9"/>
<circle cx="428.57" cy="306.4" r="2.1" fill="#d8d8cc" fill-opacity="0.6" stroke="#4b4b42" stroke-width="0.9"/>
<circle cx="438.64" cy="312.5" r="2.1" fill="#d8d8cc" fill-opacity="0.6" stroke="#4b4b42" stroke-width="0.9"/>
<circle cx="448.72" cy="316.6" r="2.1" fill="#d8d8cc" fill-opacity="0.6" stroke="#4b4b42" stroke-width="0.9"/>
<circle cx="458.79" cy="327.6" r="2.1" fill="#d8d8cc" fill-opacity="0.6" stroke="#4b4b42" stroke-width="0.9"/>
<circle cx="468.86" cy="318.9" r="2.1" fill="#d8d8cc" fill-opacity="0.6" stroke="#4b4b42" stroke-width="0.9"/>
<circle cx="478.94" cy="332" r="2.1" fill="#d8d8cc" fill-opacity="0.6" stroke="#4b4b42" stroke-width="0.9"/>
<circle cx="489.01" cy="339.2" r="2.1" fill="#d8d8cc" fill-opacity="0.6" stroke="#4b4b42" stroke-width="0.9"/>
<circle cx="499.09" cy="336" r="2.1" fill="#d8d8cc" fill-opacity="0.6" stroke="#4b4b42" stroke-width="0.9"/>
<circle cx="509.16" cy="317" r="2.1" fill="#d8d8cc" fill-opacity="0.6" stroke="#4b4b42" stroke-width="0.9"/>
<path d="M45.74,274.1L48.74,277.1L45.74,280.1L42.74,277.1Z" fill="#ff1010" stroke="#6a0c0c" stroke-width="0.55"/>
<path d="M55.81,273.9L58.81,276.9L55.81,279.9L52.81,276.9Z" fill="#ff1010" stroke="#6a0c0c" stroke-width="0.55"/>
<path d="M65.89,271.8L68.89,274.8L65.89,277.8L62.89,274.8Z" fill="#ff1010" stroke="#6a0c0c" stroke-width="0.55"/>
<path d="M75.96,273.2L78.96,276.2L75.96,279.2L72.96,276.2Z" fill="#ff1010" stroke="#6a0c0c" stroke-width="0.55"/>
<path d="M86.04,266.6L89.04,269.6L86.04,272.6L83.04,269.6Z" fill="#ff1010" stroke="#6a0c0c" stroke-width="0.55"/>
<path d="M96.11,263.6L99.11,266.6L96.11,269.6L93.11,266.6Z" fill="#ff1010" stroke="#6a0c0c" stroke-width="0.55"/>
<path d="M106.18,269.7L109.18,272.7L106.18,275.7L103.18,272.7Z" fill="#ff1010" stroke="#6a0c0c" stroke-width="0.55"/>
<path d="M116.26,276.2L119.26,279.2L116.26,282.2L113.26,279.2Z" fill="#ff1010" stroke="#6a0c0c" stroke-width="0.55"/>
<path d="M126.33,273.2L129.33,276.2L126.33,279.2L123.33,276.2Z" fill="#ff1010" stroke="#6a0c0c" stroke-width="0.55"/>
<path d="M136.41,273.9L139.41,276.9L136.41,279.9L133.41,276.9Z" fill="#ff1010" stroke="#6a0c0c" stroke-width="0.55"/>
<path d="M146.48,279.7L149.48,282.7L146.48,285.7L143.48,282.7Z" fill="#ff1010" stroke="#6a0c0c" stroke-width="0.55"/>
<path d="M156.56,279.7L159.56,282.7L156.56,285.7L153.56,282.7Z" fill="#ff1010" stroke="#6a0c0c" stroke-width="0.55"/>
<path d="M166.63,287.8L169.63,290.8L166.63,293.8L163.63,290.8Z" fill="#ff1010" stroke="#6a0c0c" stroke-width="0.55"/>
<path d="M176.71,284.4L179.71,287.4L176.71,290.4L173.71,287.4Z" fill="#ff1010" stroke="#6a0c0c" stroke-width="0.55"/>
<path d="M186.78,280.5L189.78,283.5L186.78,286.5L183.78,283.5Z" fill="#ff1010" stroke="#6a0c0c" stroke-width="0.55"/>
<path d="M196.85,285.7L199.85,288.7L196.85,291.7L193.85,288.7Z" fill="#ff1010" stroke="#6a0c0c" stroke-width="0.55"/>
<path d="M206.93,277.2L209.93,280.2L206.93,283.2L203.93,280.2Z" fill="#ff1010" stroke="#6a0c0c" stroke-width="0.55"/>
<path d="M217,285.7L220,288.7L217,291.7L214,288.7Z" fill="#ff1010" stroke="#6a0c0c" stroke-width="0.55"/>
<path d="M227.08,292.7L230.08,295.7L227.08,298.7L224.08,295.7Z" fill="#ff1010" stroke="#6a0c0c" stroke-width="0.55"/>
<path d="M237.15,299.8L240.15,302.8L237.15,305.8L234.15,302.8Z" fill="#ff1010" stroke="#6a0c0c" stroke-width="0.55"/>
<path d="M247.23,294.7L250.23,297.7L247.23,300.7L244.23,297.7Z" fill="#ff1010" stroke="#6a0c0c" stroke-width="0.55"/>
<path d="M257.3,297.6L260.3,300.6L257.3,303.6L254.3,300.6Z" fill="#ff1010" stroke="#6a0c0c" stroke-width="0.55"/>
<path d="M267.38,292.4L270.38,295.4L267.38,298.4L264.38,295.4Z" fill="#ff1010" stroke="#6a0c0c" stroke-width="0.55"/>
<path d="M277.45,291L280.45,294L277.45,297L274.45,294Z" fill="#ff1010" stroke="#6a0c0c" stroke-width="0.55"/>
<path d="M287.52,282.3L290.52,285.3L287.52,288.3L284.52,285.3Z" fill="#ff1010" stroke="#6a0c0c" stroke-width="0.55"/>
<path d="M297.6,278.8L300.6,281.8L297.6,284.8L294.6,281.8Z" fill="#ff1010" stroke="#6a0c0c" stroke-width="0.55"/>
<path d="M307.67,275.6L310.67,278.6L307.67,281.6L304.67,278.6Z" fill="#ff1010" stroke="#6a0c0c" stroke-width="0.55"/>
<path d="M317.75,277.4L320.75,280.4L317.75,283.4L314.75,280.4Z" fill="#ff1010" stroke="#6a0c0c" stroke-width="0.55"/>
<path d="M327.82,281.9L330.82,284.9L327.82,287.9L324.82,284.9Z" fill="#ff1010" stroke="#6a0c0c" stroke-width="0.55"/>
<path d="M337.9,290.4L340.9,293.4L337.9,296.4L334.9,293.4Z" fill="#ff1010" stroke="#6a0c0c" stroke-width="0.55"/>
<path d="M347.97,295.3L350.97,298.3L347.97,301.3L344.97,298.3Z" fill="#ff1010" stroke="#6a0c0c" stroke-width="0.55"/>
<path d="M358.05,283.1L361.05,286.1L358.05,289.1L355.05,286.1Z" fill="#ff1010" stroke="#6a0c0c" stroke-width="0.55"/>
<path d="M368.12,289.2L371.12,292.2L368.12,295.2L365.12,292.2Z" fill="#ff1010" stroke="#6a0c0c" stroke-width="0.55"/>
<path d="M378.19,280.5L381.19,283.5L378.19,286.5L375.19,283.5Z" fill="#ff1010" stroke="#6a0c0c" stroke-width="0.55"/>
<path d="M388.27,288.7L391.27,291.7L388.27,294.7L385.27,291.7Z" fill="#ff1010" stroke="#6a0c0c" stroke-width="0.55"/>
<path d="M398.34,278.9L401.34,281.9L398.34,284.9L395.34,281.9Z" fill="#ff1010" stroke="#6a0c0c" stroke-width="0.55"/>
<path d="M408.42,292.7L411.42,295.7L408.42,298.7L405.42,295.7Z" fill="#ff1010" stroke="#6a0c0c" stroke-width="0.55"/>
<path d="M418.49,302L421.49,305L418.49,308L415.49,305Z" fill="#ff1010" stroke="#6a0c0c" stroke-width="0.55"/>
<path d="M428.57,295.6L431.57,298.6L428.57,301.6L425.57,298.6Z" fill="#ff1010" stroke="#6a0c0c" stroke-width="0.55"/>
<path d="M438.64,303.2L441.64,306.2L438.64,309.2L435.64,306.2Z" fill="#ff1010" stroke="#6a0c0c" stroke-width="0.55"/>
<path d="M448.72,306.2L451.72,309.2L448.72,312.2L445.72,309.2Z" fill="#ff1010" stroke="#6a0c0c" stroke-width="0.55"/>
<path d="M458.79,305.1L461.79,308.1L458.79,311.1L455.79,308.1Z" fill="#ff1010" stroke="#6a0c0c" stroke-width="0.55"/>
<path d="M468.86,310.1L471.86,313.1L468.86,316.1L465.86,313.1Z" fill="#ff1010" stroke="#6a0c0c" stroke-width="0.55"/>
<path d="M478.94,313.8L481.94,316.8L478.94,319.8L475.94,316.8Z" fill="#ff1010" stroke="#6a0c0c" stroke-width="0.55"/>
<path d="M489.01,311.7L492.01,314.7L489.01,317.7L486.01,314.7Z" fill="#ff1010" stroke="#6a0c0c" stroke-width="0.55"/>
<path d="M499.09,309.3L502.09,312.3L499.09,315.3L496.09,312.3Z" fill="#ff1010" stroke="#6a0c0c" stroke-width="0.55"/>
<path d="M509.16,307.9L512.16,310.9L509.16,313.9L506.16,310.9Z" fill="#ff1010" stroke="#6a0c0c" stroke-width="0.55"/>
<path d="M43.54,252.6L47.94,257M47.94,252.6L43.54,257M45.74,252.6L45.74,257" stroke="#3f78ae" stroke-width="0.85"/>
<path d="M53.61,255.6L58.01,260M58.01,255.6L53.61,260M55.81,255.6L55.81,260" stroke="#3f78ae" stroke-width="0.85"/>
<path d="M63.69,254L68.09,258.4M68.09,254L63.69,258.4M65.89,254L65.89,258.4" stroke="#3f78ae" stroke-width="0.85"/>
<path d="M73.76,256.6L78.16,261M78.16,256.6L73.76,261M75.96,256.6L75.96,261" stroke="#3f78ae" stroke-width="0.85"/>
<path d="M83.84,246.9L88.24,251.3M88.24,246.9L83.84,251.3M86.04,246.9L86.04,251.3" stroke="#3f78ae" stroke-width="0.85"/>
<path d="M93.91,249.1L98.31,253.5M98.31,249.1L93.91,253.5M96.11,249.1L96.11,253.5" stroke="#3f78ae" stroke-width="0.85"/>
<path d="M103.98,258.7L108.38,263.1M108.38,258.7L103.98,263.1M106.18,258.7L106.18,263.1" stroke="#3f78ae" stroke-width="0.85"/>
<path d="M114.06,264.4L118.46,268.8M118.46,264.4L114.06,268.8M116.26,264.4L116.26,268.8" stroke="#3f78ae" stroke-width="0.85"/>
<path d="M124.13,258.3L128.53,262.7M128.53,258.3L124.13,262.7M126.33,258.3L126.33,262.7" stroke="#3f78ae" stroke-width="0.85"/>
<path d="M134.21,259.6L138.61,264M138.61,259.6L134.21,264M136.41,259.6L136.41,264" stroke="#3f78ae" stroke-width="0.85"/>
<path d="M144.28,268.6L148.68,273M148.68,268.6L144.28,273M146.48,268.6L146.48,273" stroke="#3f78ae" stroke-width="0.85"/>
<path d="M154.36,268.3L158.76,272.7M158.76,268.3L154.36,272.7M156.56,268.3L156.56,272.7" stroke="#3f78ae" stroke-width="0.85"/>
<path d="M164.43,281.7L168.83,286.1M168.83,281.7L164.43,286.1M166.63,281.7L166.63,286.1" stroke="#3f78ae" stroke-width="0.85"/>
<path d="M174.51,274.7L178.91,279.1M178.91,274.7L174.51,279.1M176.71,274.7L176.71,279.1" stroke="#3f78ae" stroke-width="0.85"/>
<path d="M184.58,273.1L188.98,277.5M188.98,273.1L184.58,277.5M186.78,273.1L186.78,277.5" stroke="#3f78ae" stroke-width="0.85"/>
<path d="M194.65,279.1L199.05,283.5M199.05,279.1L194.65,283.5M196.85,279.1L196.85,283.5" stroke="#3f78ae" stroke-width="0.85"/>
<path d="M204.73,262.7L209.13,267.1M209.13,262.7L204.73,267.1M206.93,262.7L206.93,267.1" stroke="#3f78ae" stroke-width="0.85"/>
<path d="M214.8,278.2L219.2,282.6M219.2,278.2L214.8,282.6M217,278.2L217,282.6" stroke="#3f78ae" stroke-width="0.85"/>
<path d="M224.88,288.8L229.28,293.2M229.28,288.8L224.88,293.2M227.08,288.8L227.08,293.2" stroke="#3f78ae" stroke-width="0.85"/>
<path d="M234.95,297.2L239.35,301.6M239.35,297.2L234.95,301.6M237.15,297.2L237.15,301.6" stroke="#3f78ae" stroke-width="0.85"/>
<path d="M245.03,285.9L249.43,290.3M249.43,285.9L245.03,290.3M247.23,285.9L247.23,290.3" stroke="#3f78ae" stroke-width="0.85"/>
<path d="M255.1,293.5L259.5,297.9M259.5,293.5L255.1,297.9M257.3,293.5L257.3,297.9" stroke="#3f78ae" stroke-width="0.85"/>
<path d="M265.18,289.2L269.58,293.6M269.58,289.2L265.18,293.6M267.38,289.2L267.38,293.6" stroke="#3f78ae" stroke-width="0.85"/>
<path d="M275.25,287.4L279.65,291.8M279.65,287.4L275.25,291.8M277.45,287.4L277.45,291.8" stroke="#3f78ae" stroke-width="0.85"/>
<path d="M285.32,266.5L289.72,270.9M289.72,266.5L285.32,270.9M287.52,266.5L287.52,270.9" stroke="#3f78ae" stroke-width="0.85"/>
<path d="M295.4,263.6L299.8,268M299.8,263.6L295.4,268M297.6,263.6L297.6,268" stroke="#3f78ae" stroke-width="0.85"/>
<path d="M305.47,262.2L309.87,266.6M309.87,262.2L305.47,266.6M307.67,262.2L307.67,266.6" stroke="#3f78ae" stroke-width="0.85"/>
<path d="M315.55,266.2L319.95,270.6M319.95,266.2L315.55,270.6M317.75,266.2L317.75,270.6" stroke="#3f78ae" stroke-width="0.85"/>
<path d="M325.62,269.1L330.02,273.5M330.02,269.1L325.62,273.5M327.82,269.1L327.82,273.5" stroke="#3f78ae" stroke-width="0.85"/>
<path d="M335.7,280.5L340.1,284.9M340.1,280.5L335.7,284.9M337.9,280.5L337.9,284.9" stroke="#3f78ae" stroke-width="0.85"/>
<path d="M345.77,290L350.17,294.4M350.17,290L345.77,294.4M347.97,290L347.97,294.4" stroke="#3f78ae" stroke-width="0.85"/>
<path d="M355.85,265.5L360.25,269.9M360.25,265.5L355.85,269.9M358.05,265.5L358.05,269.9" stroke="#3f78ae" stroke-width="0.85"/>
<path d="M365.92,284.5L370.32,288.9M370.32,284.5L365.92,288.9M368.12,284.5L368.12,288.9" stroke="#3f78ae" stroke-width="0.85"/>
<path d="M375.99,258.7L380.39,263.1M380.39,258.7L375.99,263.1M378.19,258.7L378.19,263.1" stroke="#3f78ae" stroke-width="0.85"/>
<path d="M386.07,275.2L390.47,279.6M390.47,275.2L386.07,279.6M388.27,275.2L388.27,279.6" stroke="#3f78ae" stroke-width="0.85"/>
<path d="M396.14,262.2L400.54,266.6M400.54,262.2L396.14,266.6M398.34,262.2L398.34,266.6" stroke="#3f78ae" stroke-width="0.85"/>
<path d="M406.22,279.6L410.62,284M410.62,279.6L406.22,284M408.42,279.6L408.42,284" stroke="#3f78ae" stroke-width="0.85"/>
<path d="M416.29,296.5L420.69,300.9M420.69,296.5L416.29,300.9M418.49,296.5L418.49,300.9" stroke="#3f78ae" stroke-width="0.85"/>
<path d="M426.37,286L430.77,290.4M430.77,286L426.37,290.4M428.57,286L428.57,290.4" stroke="#3f78ae" stroke-width="0.85"/>
<path d="M436.44,298.5L440.84,302.9M440.84,298.5L436.44,302.9M438.64,298.5L438.64,302.9" stroke="#3f78ae" stroke-width="0.85"/>
<path d="M446.52,299.8L450.92,304.2M450.92,299.8L446.52,304.2M448.72,299.8L448.72,304.2" stroke="#3f78ae" stroke-width="0.85"/>
<path d="M456.59,286.3L460.99,290.7M460.99,286.3L456.59,290.7M458.79,286.3L458.79,290.7" stroke="#3f78ae" stroke-width="0.85"/>
<path d="M466.66,305.5L471.06,309.9M471.06,305.5L466.66,309.9M468.86,305.5L468.86,309.9" stroke="#3f78ae" stroke-width="0.85"/>
<path d="M476.74,300.2L481.14,304.6M481.14,300.2L476.74,304.6M478.94,300.2L478.94,304.6" stroke="#3f78ae" stroke-width="0.85"/>
<path d="M486.81,286.6L491.21,291M491.21,286.6L486.81,291M489.01,286.6L489.01,291" stroke="#3f78ae" stroke-width="0.85"/>
<path d="M496.89,286.1L501.29,290.5M501.29,286.1L496.89,290.5M499.09,286.1L499.09,290.5" stroke="#3f78ae" stroke-width="0.85"/>
<path d="M506.96,303.1L511.36,307.5M511.36,303.1L506.96,307.5M509.16,303.1L509.16,307.5" stroke="#3f78ae" stroke-width="0.85"/>
<line x1="259.6" y1="331.4" x2="280.5" y2="331.4" stroke="#000" stroke-width="1.1"/>
<path d="M283.6,331.4L279.4,329.2L279.4,333.6Z" fill="#000"/>
<line x1="40.7" y1="195.1" x2="40.7" y2="369.6" stroke="#111" stroke-width="1"/>
<line x1="514.2" y1="195.1" x2="514.2" y2="369.6" stroke="#111" stroke-width="1"/>
<line x1="40.7" y1="369.1" x2="514.2" y2="369.1" stroke="#333" stroke-width="0.9"/>
<line x1="40.7" y1="369.1" x2="40.7" y2="370.70000000000005" stroke="#111" stroke-width="0.7"/>
<line x1="50.77" y1="369.1" x2="50.77" y2="370.70000000000005" stroke="#111" stroke-width="0.7"/>
<line x1="60.85" y1="369.1" x2="60.85" y2="370.70000000000005" stroke="#111" stroke-width="0.7"/>
<line x1="70.92" y1="369.1" x2="70.92" y2="370.70000000000005" stroke="#111" stroke-width="0.7"/>
<line x1="81" y1="369.1" x2="81" y2="370.70000000000005" stroke="#111" stroke-width="0.7"/>
<line x1="91.07" y1="369.1" x2="91.07" y2="370.70000000000005" stroke="#111" stroke-width="0.7"/>
<line x1="101.15" y1="369.1" x2="101.15" y2="370.70000000000005" stroke="#111" stroke-width="0.7"/>
<line x1="111.22" y1="369.1" x2="111.22" y2="370.70000000000005" stroke="#111" stroke-width="0.7"/>
<line x1="121.3" y1="369.1" x2="121.3" y2="370.70000000000005" stroke="#111" stroke-width="0.7"/>
<line x1="131.37" y1="369.1" x2="131.37" y2="370.70000000000005" stroke="#111" stroke-width="0.7"/>
<line x1="141.44" y1="369.1" x2="141.44" y2="370.70000000000005" stroke="#111" stroke-width="0.7"/>
<line x1="151.52" y1="369.1" x2="151.52" y2="370.70000000000005" stroke="#111" stroke-width="0.7"/>
<line x1="161.59" y1="369.1" x2="161.59" y2="370.70000000000005" stroke="#111" stroke-width="0.7"/>
<line x1="171.67" y1="369.1" x2="171.67" y2="370.70000000000005" stroke="#111" stroke-width="0.7"/>
<line x1="181.74" y1="369.1" x2="181.74" y2="370.70000000000005" stroke="#111" stroke-width="0.7"/>
<line x1="191.82" y1="369.1" x2="191.82" y2="370.70000000000005" stroke="#111" stroke-width="0.7"/>
<line x1="201.89" y1="369.1" x2="201.89" y2="370.70000000000005" stroke="#111" stroke-width="0.7"/>
<line x1="211.97" y1="369.1" x2="211.97" y2="370.70000000000005" stroke="#111" stroke-width="0.7"/>
<line x1="222.04" y1="369.1" x2="222.04" y2="370.70000000000005" stroke="#111" stroke-width="0.7"/>
<line x1="232.11" y1="369.1" x2="232.11" y2="370.70000000000005" stroke="#111" stroke-width="0.7"/>
<line x1="242.19" y1="369.1" x2="242.19" y2="370.70000000000005" stroke="#111" stroke-width="0.7"/>
<line x1="252.26" y1="369.1" x2="252.26" y2="370.70000000000005" stroke="#111" stroke-width="0.7"/>
<line x1="262.34" y1="369.1" x2="262.34" y2="370.70000000000005" stroke="#111" stroke-width="0.7"/>
<line x1="272.41" y1="369.1" x2="272.41" y2="370.70000000000005" stroke="#111" stroke-width="0.7"/>
<line x1="282.49" y1="369.1" x2="282.49" y2="370.70000000000005" stroke="#111" stroke-width="0.7"/>
<line x1="292.56" y1="369.1" x2="292.56" y2="370.70000000000005" stroke="#111" stroke-width="0.7"/>
<line x1="302.64" y1="369.1" x2="302.64" y2="370.70000000000005" stroke="#111" stroke-width="0.7"/>
<line x1="312.71" y1="369.1" x2="312.71" y2="370.70000000000005" stroke="#111" stroke-width="0.7"/>
<line x1="322.79" y1="369.1" x2="322.79" y2="370.70000000000005" stroke="#111" stroke-width="0.7"/>
<line x1="332.86" y1="369.1" x2="332.86" y2="370.70000000000005" stroke="#111" stroke-width="0.7"/>
<line x1="342.93" y1="369.1" x2="342.93" y2="370.70000000000005" stroke="#111" stroke-width="0.7"/>
<line x1="353.01" y1="369.1" x2="353.01" y2="370.70000000000005" stroke="#111" stroke-width="0.7"/>
<line x1="363.08" y1="369.1" x2="363.08" y2="370.70000000000005" stroke="#111" stroke-width="0.7"/>
<line x1="373.16" y1="369.1" x2="373.16" y2="370.70000000000005" stroke="#111" stroke-width="0.7"/>
<line x1="383.23" y1="369.1" x2="383.23" y2="370.70000000000005" stroke="#111" stroke-width="0.7"/>
<line x1="393.31" y1="369.1" x2="393.31" y2="370.70000000000005" stroke="#111" stroke-width="0.7"/>
<line x1="403.38" y1="369.1" x2="403.38" y2="370.70000000000005" stroke="#111" stroke-width="0.7"/>
<line x1="413.46" y1="369.1" x2="413.46" y2="370.70000000000005" stroke="#111" stroke-width="0.7"/>
<line x1="423.53" y1="369.1" x2="423.53" y2="370.70000000000005" stroke="#111" stroke-width="0.7"/>
<line x1="433.6" y1="369.1" x2="433.6" y2="370.70000000000005" stroke="#111" stroke-width="0.7"/>
<line x1="443.68" y1="369.1" x2="443.68" y2="370.70000000000005" stroke="#111" stroke-width="0.7"/>
<line x1="453.75" y1="369.1" x2="453.75" y2="370.70000000000005" stroke="#111" stroke-width="0.7"/>
<line x1="463.83" y1="369.1" x2="463.83" y2="370.70000000000005" stroke="#111" stroke-width="0.7"/>
<line x1="473.9" y1="369.1" x2="473.9" y2="370.70000000000005" stroke="#111" stroke-width="0.7"/>
<line x1="483.98" y1="369.1" x2="483.98" y2="370.70000000000005" stroke="#111" stroke-width="0.7"/>
<line x1="494.05" y1="369.1" x2="494.05" y2="370.70000000000005" stroke="#111" stroke-width="0.7"/>
<line x1="504.13" y1="369.1" x2="504.13" y2="370.70000000000005" stroke="#111" stroke-width="0.7"/>
<line x1="514.2" y1="369.1" x2="514.2" y2="370.70000000000005" stroke="#111" stroke-width="0.7"/>
<line x1="40.7" y1="369.1" x2="42.7" y2="369.1" stroke="#111" stroke-width="0.8"/>
<line x1="512.2" y1="369.1" x2="514.2" y2="369.1" stroke="#111" stroke-width="0.8"/>
<text x="31.1" y="372" class="yl" text-anchor="end">0.0</text>
<text x="521.5" y="372" class="yl">0</text>
<line x1="40.7" y1="334.4" x2="42.7" y2="334.4" stroke="#111" stroke-width="0.8"/>
<line x1="512.2" y1="334.4" x2="514.2" y2="334.4" stroke="#111" stroke-width="0.8"/>
<text x="31.1" y="337.3" class="yl" text-anchor="end">10.0</text>
<text x="521.5" y="337.3" class="yl">20</text>
<line x1="40.7" y1="299.7" x2="42.7" y2="299.7" stroke="#111" stroke-width="0.8"/>
<line x1="512.2" y1="299.7" x2="514.2" y2="299.7" stroke="#111" stroke-width="0.8"/>
<text x="31.1" y="302.6" class="yl" text-anchor="end">20.0</text>
<text x="521.5" y="302.6" class="yl">40</text>
<line x1="40.7" y1="265" x2="42.7" y2="265" stroke="#111" stroke-width="0.8"/>
<line x1="512.2" y1="265" x2="514.2" y2="265" stroke="#111" stroke-width="0.8"/>
<text x="31.1" y="267.9" class="yl" text-anchor="end">30.0</text>
<text x="521.5" y="267.9" class="yl">60</text>
<line x1="40.7" y1="230.3" x2="42.7" y2="230.3" stroke="#111" stroke-width="0.8"/>
<line x1="512.2" y1="230.3" x2="514.2" y2="230.3" stroke="#111" stroke-width="0.8"/>
<text x="31.1" y="233.2" class="yl" text-anchor="end">40.0</text>
<text x="521.5" y="233.2" class="yl">80</text>
<line x1="40.7" y1="195.6" x2="42.7" y2="195.6" stroke="#111" stroke-width="0.8"/>
<line x1="512.2" y1="195.6" x2="514.2" y2="195.6" stroke="#111" stroke-width="0.8"/>
<text x="31.1" y="198.5" class="yl" text-anchor="end">50.0</text>
<text x="521.5" y="198.5" class="yl">100</text>
<text transform="translate(48.24,373.6) rotate(-90) scale(1.07,1)" class="xl" text-anchor="end">1-Sep</text>
<text transform="translate(58.31,373.6) rotate(-90) scale(1.07,1)" class="xl" text-anchor="end">2-Sep</text>
<text transform="translate(68.39,373.6) rotate(-90) scale(1.07,1)" class="xl" text-anchor="end">3-Sep</text>
<text transform="translate(78.46,373.6) rotate(-90) scale(1.07,1)" class="xl" text-anchor="end">4-Sep</text>
<text transform="translate(88.54,373.6) rotate(-90) scale(1.07,1)" class="xl" text-anchor="end">5-Sep</text>
<text transform="translate(98.61,373.6) rotate(-90) scale(1.07,1)" class="xl" text-anchor="end">6-Sep</text>
<text transform="translate(108.68,373.6) rotate(-90) scale(1.07,1)" class="xl" text-anchor="end">7-Sep</text>
<text transform="translate(118.76,373.6) rotate(-90) scale(1.07,1)" class="xl" text-anchor="end">8-Sep</text>
<text transform="translate(128.83,373.6) rotate(-90) scale(1.07,1)" class="xl" text-anchor="end">9-Sep</text>
<text transform="translate(138.91,373.6) rotate(-90) scale(1.07,1)" class="xl" text-anchor="end">10-Sep</text>
<text transform="translate(148.98,373.6) rotate(-90) scale(1.07,1)" class="xl" text-anchor="end">11-Sep</text>
<text transform="translate(159.06,373.6) rotate(-90) scale(1.07,1)" class="xl" text-anchor="end">12-Sep</text>
<text transform="translate(169.13,373.6) rotate(-90) scale(1.07,1)" class="xl" text-anchor="end">13-Sep</text>
<text transform="translate(179.21,373.6) rotate(-90) scale(1.07,1)" class="xl" text-anchor="end">14-Sep</text>
<text transform="translate(189.28,373.6) rotate(-90) scale(1.07,1)" class="xl" text-anchor="end">15-Sep</text>
<text transform="translate(199.35,373.6) rotate(-90) scale(1.07,1)" class="xl" text-anchor="end">16-Sep</text>
<text transform="translate(209.43,373.6) rotate(-90) scale(1.07,1)" class="xl" text-anchor="end">17-Sep</text>
<text transform="translate(219.5,373.6) rotate(-90) scale(1.07,1)" class="xl" text-anchor="end">18-Sep</text>
<text transform="translate(229.58,373.6) rotate(-90) scale(1.07,1)" class="xl" text-anchor="end">19-Sep</text>
<text transform="translate(239.65,373.6) rotate(-90) scale(1.07,1)" class="xl" text-anchor="end">20-Sep</text>
<text transform="translate(249.73,373.6) rotate(-90) scale(1.07,1)" class="xl" text-anchor="end">21-Sep</text>
<text transform="translate(259.8,373.6) rotate(-90) scale(1.07,1)" class="xl" text-anchor="end">22-Sep</text>
<text transform="translate(269.88,373.6) rotate(-90) scale(1.07,1)" class="xl" text-anchor="end">23-Sep</text>
<text transform="translate(279.95,373.6) rotate(-90) scale(1.07,1)" class="xl" text-anchor="end">24-Sep</text>
<text transform="translate(290.02,373.6) rotate(-90) scale(1.07,1)" class="xl" text-anchor="end">25-Sep</text>
<text transform="translate(300.1,373.6) rotate(-90) scale(1.07,1)" class="xl" text-anchor="end">26-Sep</text>
<text transform="translate(310.17,373.6) rotate(-90) scale(1.07,1)" class="xl" text-anchor="end">27-Sep</text>
<text transform="translate(320.25,373.6) rotate(-90) scale(1.07,1)" class="xl" text-anchor="end">28-Sep</text>
<text transform="translate(330.32,373.6) rotate(-90) scale(1.07,1)" class="xl" text-anchor="end">29-Sep</text>
<text transform="translate(340.4,373.6) rotate(-90) scale(1.07,1)" class="xl" text-anchor="end">30-Sep</text>
<text transform="translate(350.47,373.6) rotate(-90) scale(1.07,1)" class="xl" text-anchor="end">1-Oct</text>
<text transform="translate(360.55,373.6) rotate(-90) scale(1.07,1)" class="xl" text-anchor="end">2-Oct</text>
<text transform="translate(370.62,373.6) rotate(-90) scale(1.07,1)" class="xl" text-anchor="end">3-Oct</text>
<text transform="translate(380.69,373.6) rotate(-90) scale(1.07,1)" class="xl" text-anchor="end">4-Oct</text>
<text transform="translate(390.77,373.6) rotate(-90) scale(1.07,1)" class="xl" text-anchor="end">5-Oct</text>
<text transform="translate(400.84,373.6) rotate(-90) scale(1.07,1)" class="xl" text-anchor="end">6-Oct</text>
<text transform="translate(410.92,373.6) rotate(-90) scale(1.07,1)" class="xl" text-anchor="end">7-Oct</text>
<text transform="translate(420.99,373.6) rotate(-90) scale(1.07,1)" class="xl" text-anchor="end">8-Oct</text>
<text transform="translate(431.07,373.6) rotate(-90) scale(1.07,1)" class="xl" text-anchor="end">9-Oct</text>
<text transform="translate(441.14,373.6) rotate(-90) scale(1.07,1)" class="xl" text-anchor="end">10-Oct</text>
<text transform="translate(451.22,373.6) rotate(-90) scale(1.07,1)" class="xl" text-anchor="end">11-Oct</text>
<text transform="translate(461.29,373.6) rotate(-90) scale(1.07,1)" class="xl" text-anchor="end">12-Oct</text>
<text transform="translate(471.36,373.6) rotate(-90) scale(1.07,1)" class="xl" text-anchor="end">13-Oct</text>
<text transform="translate(481.44,373.6) rotate(-90) scale(1.07,1)" class="xl" text-anchor="end">14-Oct</text>
<text transform="translate(491.51,373.6) rotate(-90) scale(1.07,1)" class="xl" text-anchor="end">15-Oct</text>
<text transform="translate(501.59,373.6) rotate(-90) scale(1.07,1)" class="xl" text-anchor="end">16-Oct</text>
<text transform="translate(511.66,373.6) rotate(-90) scale(1.07,1)" class="xl" text-anchor="end">17-Oct</text>
<text transform="translate(14.3,277.5) rotate(-90)" class="at" text-anchor="middle">Temperature °C</text>
<text transform="translate(542.7,282) rotate(-90) scale(1.05,1)" class="at" style="font-size:9.9px" text-anchor="middle">Pecipitation(mm)</text>
<rect x="266.3" y="187.2" width="13.2" height="3.2" fill="#ffc000" stroke="#7a6420" stroke-width="0.6"/>
<text x="281.5" y="190.2" class="lg" textLength="46.9" lengthAdjust="spacingAndGlyphs">Pecipitation(mm)</text>
<line x1="336.2" y1="188.6" x2="349.3" y2="188.6" stroke="#444" stroke-width="0.7"/>
<path d="M342.8,186.9L344.5,188.6L342.8,190.3L341.1,188.6Z" fill="#e01010" stroke="#6a0c0c" stroke-width="0.4"/>
<text x="351.5" y="190.2" class="lg" textLength="38.5" lengthAdjust="spacingAndGlyphs">Tem mean(°C)</text>
<line x1="398.4" y1="188.7" x2="411.6" y2="188.7" stroke="#6f7f8f" stroke-width="0.8" stroke-dasharray="2.5,1.5"/>
<path d="M403.3,187L406.7,190.4M406.7,187L403.3,190.4M405,187L405,190.4" stroke="#3d7cc0" stroke-width="1"/>
<text x="413.4" y="190.2" class="lg" textLength="35.8" lengthAdjust="spacingAndGlyphs">Tem max(°C)</text>
<line x1="457.3" y1="188.7" x2="471" y2="188.7" stroke="#8a8a80" stroke-width="0.8"/>
<circle cx="463.8" cy="188.7" r="1.8" fill="#d0d0c4" stroke="#333" stroke-width="0.8"/>
<text x="472.4" y="190.2" class="lg" textLength="35.1" lengthAdjust="spacingAndGlyphs">Tem min(°C)</text>
<text x="14" y="187.8" class="pn">d</text>
</g>
</svg>
</body></html>
